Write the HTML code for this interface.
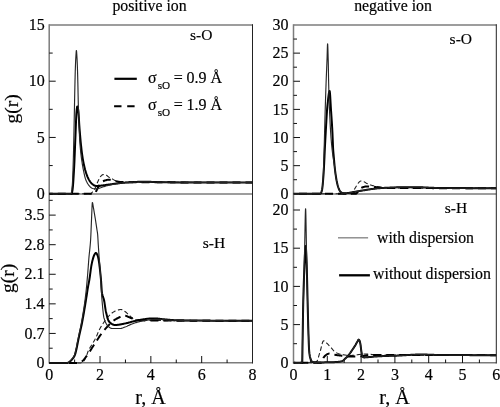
<!DOCTYPE html>
<html><head><meta charset="utf-8"><title>g(r)</title><style>html,body{margin:0;padding:0;background:#fff;}svg{display:block;}</style></head><body>
<svg width="500" height="407" viewBox="0 0 500 407" font-family="'Liberation Serif', 'Times New Roman', serif" fill="#000">
<defs><style>text{stroke:#000;stroke-width:0.18px;paint-order:stroke}</style>
<clipPath id="cTL"><rect x="49.2" y="24" width="203.3" height="172"/></clipPath>
<clipPath id="cBL"><rect x="49.2" y="194" width="203.3" height="170"/></clipPath>
<clipPath id="cTR"><rect x="293.5" y="24" width="202.8" height="172"/></clipPath>
<clipPath id="cBR"><rect x="293.5" y="194" width="202.8" height="170"/></clipPath>
</defs>
<rect width="500" height="407" fill="#fff"/>
<line x1="49.2" y1="24.9" x2="252.5" y2="24.9" stroke="#7c7c7c" stroke-width="1.5" fill="none"/>
<line x1="49.2" y1="194" x2="252.5" y2="194" stroke="#7c7c7c" stroke-width="1.5" fill="none"/>
<line x1="49.2" y1="362.8" x2="252.5" y2="362.8" stroke="#7c7c7c" stroke-width="1.5" fill="none"/>
<line x1="49.2" y1="24.2" x2="49.2" y2="363.5" stroke="#7c7c7c" stroke-width="1.5" fill="none"/>
<line x1="252.5" y1="24.2" x2="252.5" y2="363.5" stroke="#222" stroke-width="1"/>
<line x1="293.5" y1="24.9" x2="496.3" y2="24.9" stroke="#7c7c7c" stroke-width="1.5" fill="none"/>
<line x1="293.5" y1="194" x2="496.3" y2="194" stroke="#7c7c7c" stroke-width="1.5" fill="none"/>
<line x1="293.5" y1="362.8" x2="496.3" y2="362.8" stroke="#7c7c7c" stroke-width="1.5" fill="none"/>
<line x1="293.5" y1="24.2" x2="293.5" y2="363.5" stroke="#7c7c7c" stroke-width="1.5" fill="none"/>
<line x1="496.3" y1="24.2" x2="496.3" y2="363.5" stroke="#222" stroke-width="1"/>
<line x1="49.2" y1="193.70" x2="55.7" y2="193.70" stroke="#111" stroke-width="1"/>
<line x1="49.2" y1="137.45" x2="55.7" y2="137.45" stroke="#111" stroke-width="1"/>
<line x1="49.2" y1="81.20" x2="55.7" y2="81.20" stroke="#111" stroke-width="1"/>
<line x1="49.2" y1="165.57" x2="52.7" y2="165.57" stroke="#111" stroke-width="1"/>
<line x1="49.2" y1="109.32" x2="52.7" y2="109.32" stroke="#111" stroke-width="1"/>
<line x1="49.2" y1="53.07" x2="52.7" y2="53.07" stroke="#111" stroke-width="1"/>
<text x="44.8" y="198.80" text-anchor="end" font-size="16">0</text>
<text x="44.8" y="142.55" text-anchor="end" font-size="16">5</text>
<text x="44.8" y="86.30" text-anchor="end" font-size="16">10</text>
<text x="44.8" y="30.05" text-anchor="end" font-size="16">15</text>

<line x1="49.2" y1="333.43" x2="55.7" y2="333.43" stroke="#111" stroke-width="1"/>
<line x1="49.2" y1="303.85" x2="55.7" y2="303.85" stroke="#111" stroke-width="1"/>
<line x1="49.2" y1="274.27" x2="55.7" y2="274.27" stroke="#111" stroke-width="1"/>
<line x1="49.2" y1="244.70" x2="55.7" y2="244.70" stroke="#111" stroke-width="1"/>
<line x1="49.2" y1="215.12" x2="55.7" y2="215.12" stroke="#111" stroke-width="1"/>
<line x1="49.2" y1="348.21" x2="52.7" y2="348.21" stroke="#111" stroke-width="1"/>
<line x1="49.2" y1="318.64" x2="52.7" y2="318.64" stroke="#111" stroke-width="1"/>
<line x1="49.2" y1="289.06" x2="52.7" y2="289.06" stroke="#111" stroke-width="1"/>
<line x1="49.2" y1="259.49" x2="52.7" y2="259.49" stroke="#111" stroke-width="1"/>
<line x1="49.2" y1="229.91" x2="52.7" y2="229.91" stroke="#111" stroke-width="1"/>
<line x1="49.2" y1="200.34" x2="52.7" y2="200.34" stroke="#111" stroke-width="1"/>
<text x="44.6" y="368.10" text-anchor="end" font-size="16">0</text>
<text x="44.6" y="338.53" text-anchor="end" font-size="16">0.7</text>
<text x="44.6" y="308.95" text-anchor="end" font-size="16">1.4</text>
<text x="44.6" y="279.38" text-anchor="end" font-size="16">2.1</text>
<text x="44.6" y="249.80" text-anchor="end" font-size="16">2.8</text>
<text x="44.6" y="220.22" text-anchor="end" font-size="16">3.5</text>

<line x1="293.5" y1="165.67" x2="300.0" y2="165.67" stroke="#111" stroke-width="1"/>
<line x1="293.5" y1="137.53" x2="300.0" y2="137.53" stroke="#111" stroke-width="1"/>
<line x1="293.5" y1="109.40" x2="300.0" y2="109.40" stroke="#111" stroke-width="1"/>
<line x1="293.5" y1="81.26" x2="300.0" y2="81.26" stroke="#111" stroke-width="1"/>
<line x1="293.5" y1="53.13" x2="300.0" y2="53.13" stroke="#111" stroke-width="1"/>
<line x1="293.5" y1="179.73" x2="297.0" y2="179.73" stroke="#111" stroke-width="1"/>
<line x1="293.5" y1="151.60" x2="297.0" y2="151.60" stroke="#111" stroke-width="1"/>
<line x1="293.5" y1="123.46" x2="297.0" y2="123.46" stroke="#111" stroke-width="1"/>
<line x1="293.5" y1="95.33" x2="297.0" y2="95.33" stroke="#111" stroke-width="1"/>
<line x1="293.5" y1="67.19" x2="297.0" y2="67.19" stroke="#111" stroke-width="1"/>
<line x1="293.5" y1="39.06" x2="297.0" y2="39.06" stroke="#111" stroke-width="1"/>
<text x="288.6" y="198.90" text-anchor="end" font-size="16">0</text>
<text x="288.6" y="170.77" text-anchor="end" font-size="16">5</text>
<text x="288.6" y="142.63" text-anchor="end" font-size="16">10</text>
<text x="288.6" y="114.50" text-anchor="end" font-size="16">15</text>
<text x="288.6" y="86.36" text-anchor="end" font-size="16">20</text>
<text x="288.6" y="58.23" text-anchor="end" font-size="16">25</text>
<text x="288.6" y="30.09" text-anchor="end" font-size="16">30</text>

<line x1="293.5" y1="324.60" x2="300.0" y2="324.60" stroke="#111" stroke-width="1"/>
<line x1="293.5" y1="286.40" x2="300.0" y2="286.40" stroke="#111" stroke-width="1"/>
<line x1="293.5" y1="248.20" x2="300.0" y2="248.20" stroke="#111" stroke-width="1"/>
<line x1="293.5" y1="210.00" x2="300.0" y2="210.00" stroke="#111" stroke-width="1"/>
<line x1="293.5" y1="343.70" x2="297.0" y2="343.70" stroke="#111" stroke-width="1"/>
<line x1="293.5" y1="305.50" x2="297.0" y2="305.50" stroke="#111" stroke-width="1"/>
<line x1="293.5" y1="267.30" x2="297.0" y2="267.30" stroke="#111" stroke-width="1"/>
<line x1="293.5" y1="229.10" x2="297.0" y2="229.10" stroke="#111" stroke-width="1"/>
<text x="288.6" y="367.90" text-anchor="end" font-size="16">0</text>
<text x="288.6" y="329.70" text-anchor="end" font-size="16">5</text>
<text x="288.6" y="291.50" text-anchor="end" font-size="16">10</text>
<text x="288.6" y="253.30" text-anchor="end" font-size="16">15</text>
<text x="288.6" y="215.10" text-anchor="end" font-size="16">20</text>

<line x1="100.03" y1="363" x2="100.03" y2="356" stroke="#111" stroke-width="1"/>
<line x1="150.85" y1="363" x2="150.85" y2="356" stroke="#111" stroke-width="1"/>
<line x1="201.68" y1="363" x2="201.68" y2="356" stroke="#111" stroke-width="1"/>
<line x1="74.61" y1="363" x2="74.61" y2="359.5" stroke="#111" stroke-width="1"/>
<line x1="125.44" y1="363" x2="125.44" y2="359.5" stroke="#111" stroke-width="1"/>
<line x1="176.26" y1="363" x2="176.26" y2="359.5" stroke="#111" stroke-width="1"/>
<line x1="227.09" y1="363" x2="227.09" y2="359.5" stroke="#111" stroke-width="1"/>
<text x="49.20" y="379.6" text-anchor="middle" font-size="16">0</text>
<text x="100.03" y="379.6" text-anchor="middle" font-size="16">2</text>
<text x="150.85" y="379.6" text-anchor="middle" font-size="16">4</text>
<text x="201.68" y="379.6" text-anchor="middle" font-size="16">6</text>
<text x="252.50" y="379.6" text-anchor="middle" font-size="16">8</text>

<line x1="327.30" y1="363" x2="327.30" y2="356" stroke="#111" stroke-width="1"/>
<line x1="361.10" y1="363" x2="361.10" y2="356" stroke="#111" stroke-width="1"/>
<line x1="394.90" y1="363" x2="394.90" y2="356" stroke="#111" stroke-width="1"/>
<line x1="428.70" y1="363" x2="428.70" y2="356" stroke="#111" stroke-width="1"/>
<line x1="462.50" y1="363" x2="462.50" y2="356" stroke="#111" stroke-width="1"/>
<line x1="310.40" y1="363" x2="310.40" y2="359.5" stroke="#111" stroke-width="1"/>
<line x1="344.20" y1="363" x2="344.20" y2="359.5" stroke="#111" stroke-width="1"/>
<line x1="378.00" y1="363" x2="378.00" y2="359.5" stroke="#111" stroke-width="1"/>
<line x1="411.80" y1="363" x2="411.80" y2="359.5" stroke="#111" stroke-width="1"/>
<line x1="445.60" y1="363" x2="445.60" y2="359.5" stroke="#111" stroke-width="1"/>
<line x1="479.40" y1="363" x2="479.40" y2="359.5" stroke="#111" stroke-width="1"/>
<text x="293.50" y="379.6" text-anchor="middle" font-size="16">0</text>
<text x="327.30" y="379.6" text-anchor="middle" font-size="16">1</text>
<text x="361.10" y="379.6" text-anchor="middle" font-size="16">2</text>
<text x="394.90" y="379.6" text-anchor="middle" font-size="16">3</text>
<text x="428.70" y="379.6" text-anchor="middle" font-size="16">4</text>
<text x="462.50" y="379.6" text-anchor="middle" font-size="16">5</text>
<text x="496.30" y="379.6" text-anchor="middle" font-size="16">6</text>

<g clip-path="url(#cTL)">
<path fill="none" stroke="#222" stroke-width="1.1" stroke-dasharray="4.5 2.5" stroke-dashoffset="2.07" d="M49.20,193.70 L49.90,193.70 L50.60,193.70 L51.30,193.70 L52.00,193.70 L52.70,193.70 L53.40,193.70 L54.10,193.70 L54.80,193.70 L55.50,193.70 L56.20,193.70 L56.90,193.70 L57.60,193.70 L58.30,193.70 L59.00,193.70 L59.70,193.70 L60.40,193.70 L61.10,193.70 L61.80,193.70 L62.50,193.70 L63.20,193.70 L63.90,193.70 L64.60,193.70 L65.30,193.70 L66.00,193.70 L66.70,193.70 L67.40,193.70 L68.10,193.70 L68.80,193.70 L69.50,193.70 L70.20,193.70 L70.90,193.70 L71.60,193.70 L72.30,193.70 L73.00,193.70 L73.70,193.70 L74.40,193.70 L75.10,193.70 L75.80,193.70 L76.50,193.70 L77.20,193.70 L77.90,193.70 L78.60,193.70 L79.30,193.70 L80.00,193.70 L80.70,193.70 L81.40,193.70 L82.10,193.70 L82.80,193.70 L83.50,193.70 L84.20,193.70 L84.90,193.70 L85.60,193.70 L86.30,193.70 L87.00,193.70 L87.70,193.70 L88.40,193.70 L89.10,193.70 L89.80,193.70 L90.50,193.70 L91.17,193.41 L91.83,192.75 L92.50,192.00 L93.12,191.30 L93.75,190.49 L94.38,189.56 L95.00,188.50 L95.50,187.43 L96.00,186.13 L96.50,184.76 L97.00,183.50 L97.57,182.20 L98.13,180.96 L98.70,179.80 L99.30,178.61 L99.90,177.49 L100.50,176.60 L101.17,175.84 L101.83,175.21 L102.50,174.80 L103.00,174.61 L103.50,174.46 L104.00,174.40 L104.67,174.49 L105.33,174.72 L106.00,175.00 L106.60,175.34 L107.20,175.80 L107.80,176.31 L108.40,176.80 L109.00,177.20 L109.67,177.52 L110.33,177.80 L111.00,178.10 L111.70,178.49 L112.40,178.94 L113.10,179.40 L113.80,179.83 L114.50,180.20 L115.20,180.52 L115.90,180.83 L116.60,181.10 L117.30,181.33 L118.00,181.50 L118.67,181.62 L119.33,181.74 L120.00,181.84 L120.67,181.94 L121.33,182.03 L122.00,182.10 L122.67,182.15 L123.33,182.19 L124.00,182.20 L124.70,182.20 L125.40,182.21 L126.10,182.21 L126.79,182.21 L127.49,182.22 L128.19,182.22 L128.89,182.23 L129.59,182.23 L130.29,182.23 L130.98,182.24 L131.68,182.24 L132.38,182.24 L133.08,182.25 L133.78,182.25 L134.48,182.25 L135.17,182.26 L135.87,182.26 L136.57,182.26 L137.27,182.27 L137.97,182.27 L138.67,182.27 L139.36,182.27 L140.06,182.28 L140.76,182.28 L141.46,182.28 L142.16,182.29 L142.86,182.29 L143.55,182.29 L144.25,182.29 L144.95,182.30 L145.65,182.30 L146.35,182.30 L147.05,182.31 L147.74,182.31 L148.44,182.31 L149.14,182.31 L149.84,182.32 L150.54,182.32 L151.24,182.32 L151.93,182.32 L152.63,182.33 L153.33,182.33 L154.03,182.33 L154.73,182.33 L155.43,182.33 L156.12,182.34 L156.82,182.34 L157.52,182.34 L158.22,182.34 L158.92,182.35 L159.62,182.35 L160.32,182.35 L161.01,182.35 L161.71,182.35 L162.41,182.36 L163.11,182.36 L163.81,182.36 L164.51,182.36 L165.20,182.36 L165.90,182.37 L166.60,182.37 L167.30,182.37 L168.00,182.37 L168.70,182.37 L169.39,182.37 L170.09,182.38 L170.79,182.38 L171.49,182.38 L172.19,182.38 L172.89,182.38 L173.58,182.38 L174.28,182.39 L174.98,182.39 L175.68,182.39 L176.38,182.39 L177.08,182.39 L177.77,182.39 L178.47,182.39 L179.17,182.40 L179.87,182.40 L180.57,182.40 L181.27,182.40 L181.96,182.40 L182.66,182.40 L183.36,182.40 L184.06,182.41 L184.76,182.41 L185.46,182.41 L186.15,182.41 L186.85,182.41 L187.55,182.41 L188.25,182.41 L188.95,182.41 L189.65,182.41 L190.35,182.42 L191.04,182.42 L191.74,182.42 L192.44,182.42 L193.14,182.42 L193.84,182.42 L194.54,182.42 L195.23,182.42 L195.93,182.42 L196.63,182.42 L197.33,182.42 L198.03,182.43 L198.73,182.43 L199.42,182.43 L200.12,182.43 L200.82,182.43 L201.52,182.43 L202.22,182.43 L202.92,182.43 L203.61,182.43 L204.31,182.43 L205.01,182.43 L205.71,182.43 L206.41,182.43 L207.11,182.43 L207.80,182.44 L208.50,182.44 L209.20,182.44 L209.90,182.44 L210.60,182.44 L211.30,182.44 L211.99,182.44 L212.69,182.44 L213.39,182.44 L214.09,182.44 L214.79,182.44 L215.49,182.44 L216.18,182.44 L216.88,182.44 L217.58,182.44 L218.28,182.44 L218.98,182.44 L219.68,182.44 L220.38,182.44 L221.07,182.44 L221.77,182.44 L222.47,182.44 L223.17,182.44 L223.87,182.45 L224.57,182.45 L225.26,182.45 L225.96,182.45 L226.66,182.45 L227.36,182.45 L228.06,182.45 L228.76,182.45 L229.45,182.45 L230.15,182.45 L230.85,182.45 L231.55,182.45 L232.25,182.45 L232.95,182.45 L233.64,182.45 L234.34,182.45 L235.04,182.45 L235.74,182.45 L236.44,182.45 L237.14,182.45 L237.83,182.45 L238.53,182.45 L239.23,182.45 L239.93,182.45 L240.63,182.45 L241.33,182.45 L242.02,182.45 L242.72,182.45 L243.42,182.45 L244.12,182.45 L244.82,182.45 L245.52,182.45 L246.21,182.45 L246.91,182.45 L247.61,182.45 L248.31,182.45 L249.01,182.45 L249.71,182.45 L250.40,182.45 L251.10,182.45 L251.80,182.45 L252.50,182.45"/>
<path fill="none" stroke="#000" stroke-width="2.0" stroke-dasharray="8 5" stroke-dashoffset="4.43" d="M49.20,193.70 L49.90,193.70 L50.59,193.70 L51.29,193.70 L51.99,193.70 L52.68,193.70 L53.38,193.70 L54.08,193.70 L54.78,193.70 L55.47,193.70 L56.17,193.70 L56.87,193.70 L57.56,193.70 L58.26,193.70 L58.96,193.70 L59.65,193.70 L60.35,193.70 L61.05,193.70 L61.74,193.70 L62.44,193.70 L63.14,193.70 L63.84,193.70 L64.53,193.70 L65.23,193.70 L65.93,193.70 L66.62,193.70 L67.32,193.70 L68.02,193.70 L68.71,193.70 L69.41,193.70 L70.11,193.70 L70.80,193.70 L71.50,193.70 L72.20,193.70 L72.90,193.70 L73.59,193.70 L74.29,193.70 L74.99,193.70 L75.68,193.70 L76.38,193.70 L77.08,193.70 L77.77,193.70 L78.47,193.70 L79.17,193.70 L79.86,193.70 L80.56,193.70 L81.26,193.70 L81.96,193.70 L82.65,193.70 L83.35,193.70 L84.05,193.70 L84.74,193.70 L85.44,193.70 L86.14,193.70 L86.83,193.70 L87.53,193.70 L88.23,193.70 L88.92,193.70 L89.62,193.70 L90.32,193.70 L91.02,193.70 L91.71,193.70 L92.41,193.70 L93.11,193.70 L93.80,193.70 L94.50,193.70 L95.00,193.32 L95.50,192.44 L96.00,191.50 L96.67,190.23 L97.33,188.82 L98.00,187.50 L98.62,186.38 L99.25,185.30 L99.88,184.31 L100.50,183.50 L101.12,182.82 L101.75,182.21 L102.38,181.69 L103.00,181.30 L103.60,181.01 L104.20,180.76 L104.80,180.55 L105.40,180.36 L106.00,180.20 L106.62,180.03 L107.25,179.87 L107.88,179.75 L108.50,179.70 L109.12,179.72 L109.75,179.76 L110.38,179.83 L111.00,179.90 L111.60,179.99 L112.20,180.13 L112.80,180.28 L113.40,180.44 L114.00,180.60 L114.60,180.76 L115.20,180.93 L115.80,181.10 L116.40,181.26 L117.00,181.40 L117.67,181.55 L118.33,181.71 L119.00,181.85 L119.67,181.98 L120.33,182.06 L121.00,182.10 L121.70,182.11 L122.40,182.11 L123.10,182.12 L123.80,182.12 L124.50,182.13 L125.20,182.13 L125.90,182.14 L126.60,182.14 L127.30,182.15 L127.99,182.15 L128.69,182.15 L129.39,182.16 L130.09,182.16 L130.79,182.17 L131.49,182.17 L132.19,182.18 L132.89,182.18 L133.59,182.19 L134.29,182.19 L134.99,182.20 L135.69,182.20 L136.39,182.20 L137.09,182.21 L137.79,182.21 L138.49,182.22 L139.19,182.22 L139.89,182.22 L140.59,182.23 L141.28,182.23 L141.98,182.24 L142.68,182.24 L143.38,182.24 L144.08,182.25 L144.78,182.25 L145.48,182.25 L146.18,182.26 L146.88,182.26 L147.58,182.26 L148.28,182.27 L148.98,182.27 L149.68,182.27 L150.38,182.28 L151.08,182.28 L151.78,182.28 L152.48,182.29 L153.18,182.29 L153.88,182.29 L154.57,182.30 L155.27,182.30 L155.97,182.30 L156.67,182.31 L157.37,182.31 L158.07,182.31 L158.77,182.31 L159.47,182.32 L160.17,182.32 L160.87,182.32 L161.57,182.33 L162.27,182.33 L162.97,182.33 L163.67,182.33 L164.37,182.34 L165.07,182.34 L165.77,182.34 L166.47,182.34 L167.16,182.35 L167.86,182.35 L168.56,182.35 L169.26,182.35 L169.96,182.35 L170.66,182.36 L171.36,182.36 L172.06,182.36 L172.76,182.36 L173.46,182.37 L174.16,182.37 L174.86,182.37 L175.56,182.37 L176.26,182.37 L176.96,182.38 L177.66,182.38 L178.36,182.38 L179.06,182.38 L179.76,182.38 L180.45,182.38 L181.15,182.39 L181.85,182.39 L182.55,182.39 L183.25,182.39 L183.95,182.39 L184.65,182.39 L185.35,182.40 L186.05,182.40 L186.75,182.40 L187.45,182.40 L188.15,182.40 L188.85,182.40 L189.55,182.40 L190.25,182.41 L190.95,182.41 L191.65,182.41 L192.35,182.41 L193.05,182.41 L193.74,182.41 L194.44,182.41 L195.14,182.41 L195.84,182.42 L196.54,182.42 L197.24,182.42 L197.94,182.42 L198.64,182.42 L199.34,182.42 L200.04,182.42 L200.74,182.42 L201.44,182.42 L202.14,182.43 L202.84,182.43 L203.54,182.43 L204.24,182.43 L204.94,182.43 L205.64,182.43 L206.34,182.43 L207.03,182.43 L207.73,182.43 L208.43,182.43 L209.13,182.43 L209.83,182.43 L210.53,182.43 L211.23,182.44 L211.93,182.44 L212.63,182.44 L213.33,182.44 L214.03,182.44 L214.73,182.44 L215.43,182.44 L216.13,182.44 L216.83,182.44 L217.53,182.44 L218.23,182.44 L218.93,182.44 L219.62,182.44 L220.32,182.44 L221.02,182.44 L221.72,182.44 L222.42,182.44 L223.12,182.44 L223.82,182.44 L224.52,182.44 L225.22,182.44 L225.92,182.45 L226.62,182.45 L227.32,182.45 L228.02,182.45 L228.72,182.45 L229.42,182.45 L230.12,182.45 L230.82,182.45 L231.52,182.45 L232.22,182.45 L232.91,182.45 L233.61,182.45 L234.31,182.45 L235.01,182.45 L235.71,182.45 L236.41,182.45 L237.11,182.45 L237.81,182.45 L238.51,182.45 L239.21,182.45 L239.91,182.45 L240.61,182.45 L241.31,182.45 L242.01,182.45 L242.71,182.45 L243.41,182.45 L244.11,182.45 L244.81,182.45 L245.51,182.45 L246.20,182.45 L246.90,182.45 L247.60,182.45 L248.30,182.45 L249.00,182.45 L249.70,182.45 L250.40,182.45 L251.10,182.45 L251.80,182.45 L252.50,182.45"/>
<path fill="none" stroke="#000" stroke-width="2.0" stroke-linejoin="round" d="M49.20,193.70 L49.90,193.70 L50.59,193.70 L51.29,193.70 L51.99,193.70 L52.68,193.70 L53.38,193.70 L54.08,193.70 L54.78,193.70 L55.47,193.70 L56.17,193.70 L56.87,193.70 L57.56,193.70 L58.26,193.70 L58.96,193.70 L59.65,193.70 L60.35,193.70 L61.05,193.70 L61.74,193.70 L62.44,193.70 L63.14,193.70 L63.83,193.70 L64.53,193.70 L65.23,193.70 L65.92,193.70 L66.62,193.70 L67.32,193.70 L68.02,193.70 L68.71,193.70 L69.41,193.70 L70.11,193.70 L70.80,193.70 L71.50,193.70 L71.83,193.15 L72.17,191.79 L72.50,190.00 L72.61,189.31 L72.71,188.46 L72.82,187.45 L72.93,186.30 L73.04,185.02 L73.14,183.63 L73.25,182.14 L73.36,180.56 L73.46,178.90 L73.57,177.19 L73.68,175.43 L73.79,173.63 L73.89,171.82 L74.00,170.00 L74.06,168.91 L74.12,167.75 L74.19,166.53 L74.25,165.27 L74.31,163.95 L74.38,162.58 L74.44,161.17 L74.50,159.73 L74.56,158.25 L74.62,156.74 L74.69,155.21 L74.75,153.66 L74.81,152.09 L74.88,150.51 L74.94,148.92 L75.00,147.33 L75.06,145.74 L75.12,144.16 L75.19,142.58 L75.25,141.02 L75.31,139.48 L75.38,137.96 L75.44,136.46 L75.50,135.00 L75.56,133.51 L75.62,131.94 L75.69,130.31 L75.75,128.64 L75.81,126.94 L75.88,125.24 L75.94,123.56 L76.00,121.90 L76.06,120.30 L76.12,118.76 L76.19,117.31 L76.25,115.97 L76.31,114.75 L76.38,113.66 L76.44,112.74 L76.50,112.00 L76.70,109.97 L76.90,108.21 L77.10,106.97 L77.30,106.50 L77.60,107.02 L77.90,108.31 L78.20,110.00 L78.31,110.79 L78.42,111.84 L78.53,113.12 L78.63,114.59 L78.74,116.21 L78.85,117.92 L78.96,119.70 L79.07,121.49 L79.17,123.26 L79.28,124.96 L79.39,126.56 L79.50,128.00 L79.62,129.56 L79.75,131.10 L79.88,132.63 L80.00,134.14 L80.12,135.63 L80.25,137.08 L80.38,138.51 L80.50,139.90 L80.62,141.24 L80.75,142.55 L80.88,143.80 L81.00,145.00 L81.19,146.73 L81.38,148.40 L81.56,150.01 L81.75,151.56 L81.94,153.03 L82.12,154.43 L82.31,155.76 L82.50,157.00 L82.75,158.54 L83.00,159.99 L83.25,161.34 L83.50,162.62 L83.75,163.84 L84.00,165.00 L84.38,166.66 L84.75,168.21 L85.12,169.66 L85.50,171.00 L86.00,172.64 L86.50,174.14 L87.00,175.50 L87.65,177.10 L88.30,178.50 L88.87,179.61 L89.43,180.62 L90.00,181.50 L90.67,182.39 L91.33,183.16 L92.00,183.80 L92.60,184.30 L93.20,184.78 L93.80,185.20 L94.40,185.52 L95.00,185.70 L95.60,185.80 L96.20,185.88 L96.80,185.94 L97.40,185.99 L98.00,186.00 L98.67,185.98 L99.33,185.91 L100.00,185.82 L100.67,185.71 L101.33,185.60 L102.00,185.50 L102.67,185.41 L103.33,185.32 L104.00,185.23 L104.67,185.14 L105.33,185.05 L106.00,184.96 L106.67,184.86 L107.33,184.77 L108.00,184.68 L108.67,184.58 L109.33,184.49 L110.00,184.40 L110.67,184.31 L111.33,184.22 L112.00,184.13 L112.67,184.04 L113.33,183.95 L114.00,183.86 L114.67,183.77 L115.33,183.68 L116.00,183.60 L116.67,183.52 L117.33,183.43 L118.00,183.35 L118.67,183.27 L119.33,183.19 L120.00,183.11 L120.67,183.03 L121.33,182.96 L122.00,182.90 L122.67,182.84 L123.33,182.78 L124.00,182.72 L124.67,182.67 L125.33,182.61 L126.00,182.56 L126.67,182.51 L127.33,182.47 L128.00,182.42 L128.67,182.38 L129.33,182.34 L130.00,182.30 L130.70,182.26 L131.40,182.22 L132.10,182.18 L132.80,182.14 L133.50,182.10 L134.20,182.06 L134.90,182.02 L135.60,181.98 L136.30,181.94 L137.00,181.90 L137.70,181.87 L138.40,181.84 L139.10,181.81 L139.80,181.78 L140.50,181.76 L141.20,181.74 L141.90,181.72 L142.60,181.71 L143.30,181.70 L144.00,181.70 L144.70,181.70 L145.39,181.71 L146.09,181.72 L146.78,181.73 L147.48,181.75 L148.17,181.77 L148.87,181.79 L149.57,181.82 L150.26,181.84 L150.96,181.87 L151.65,181.90 L152.35,181.93 L153.04,181.96 L153.74,181.99 L154.43,182.02 L155.13,182.05 L155.83,182.07 L156.52,182.10 L157.22,182.13 L157.91,182.15 L158.61,182.17 L159.30,182.19 L160.00,182.20 L160.69,182.21 L161.38,182.23 L162.07,182.24 L162.76,182.25 L163.45,182.26 L164.14,182.27 L164.83,182.29 L165.52,182.30 L166.21,182.31 L166.90,182.32 L167.59,182.33 L168.28,182.34 L168.97,182.36 L169.66,182.37 L170.34,182.38 L171.03,182.38 L171.72,182.39 L172.41,182.40 L173.10,182.41 L173.79,182.42 L174.48,182.42 L175.17,182.43 L175.86,182.43 L176.55,182.44 L177.24,182.44 L177.93,182.45 L178.62,182.45 L179.31,182.45 L180.00,182.45 L180.70,182.45 L181.39,182.45 L182.09,182.45 L182.79,182.45 L183.49,182.45 L184.18,182.45 L184.88,182.45 L185.58,182.45 L186.27,182.45 L186.97,182.45 L187.67,182.45 L188.37,182.45 L189.06,182.45 L189.76,182.45 L190.46,182.45 L191.15,182.45 L191.85,182.45 L192.55,182.45 L193.25,182.45 L193.94,182.45 L194.64,182.45 L195.34,182.45 L196.03,182.45 L196.73,182.45 L197.43,182.45 L198.12,182.45 L198.82,182.45 L199.52,182.45 L200.22,182.45 L200.91,182.45 L201.61,182.45 L202.31,182.45 L203.00,182.45 L203.70,182.45 L204.40,182.45 L205.10,182.45 L205.79,182.45 L206.49,182.45 L207.19,182.45 L207.88,182.45 L208.58,182.45 L209.28,182.45 L209.98,182.45 L210.67,182.45 L211.37,182.45 L212.07,182.45 L212.76,182.45 L213.46,182.45 L214.16,182.45 L214.86,182.45 L215.55,182.45 L216.25,182.45 L216.95,182.45 L217.64,182.45 L218.34,182.45 L219.04,182.45 L219.74,182.45 L220.43,182.45 L221.13,182.45 L221.83,182.45 L222.52,182.45 L223.22,182.45 L223.92,182.45 L224.62,182.45 L225.31,182.45 L226.01,182.45 L226.71,182.45 L227.40,182.45 L228.10,182.45 L228.80,182.45 L229.50,182.45 L230.19,182.45 L230.89,182.45 L231.59,182.45 L232.28,182.45 L232.98,182.45 L233.68,182.45 L234.38,182.45 L235.07,182.45 L235.77,182.45 L236.47,182.45 L237.16,182.45 L237.86,182.45 L238.56,182.45 L239.25,182.45 L239.95,182.45 L240.65,182.45 L241.35,182.45 L242.04,182.45 L242.74,182.45 L243.44,182.45 L244.13,182.45 L244.83,182.45 L245.53,182.45 L246.23,182.45 L246.92,182.45 L247.62,182.45 L248.32,182.45 L249.01,182.45 L249.71,182.45 L250.41,182.45 L251.11,182.45 L251.80,182.45 L252.50,182.45"/>
<path fill="none" stroke="#262626" stroke-width="1.15" stroke-linejoin="round" d="M49.20,193.70 L49.89,193.70 L50.58,193.70 L51.26,193.70 L51.95,193.70 L52.64,193.70 L53.33,193.70 L54.01,193.70 L54.70,193.70 L55.39,193.70 L56.08,193.70 L56.76,193.70 L57.45,193.70 L58.14,193.70 L58.83,193.70 L59.51,193.70 L60.20,193.70 L60.89,193.70 L61.58,193.70 L62.26,193.70 L62.95,193.70 L63.64,193.70 L64.33,193.70 L65.01,193.70 L65.70,193.70 L66.39,193.70 L67.08,193.70 L67.76,193.70 L68.45,193.70 L69.14,193.70 L69.83,193.70 L70.51,193.70 L71.20,193.70 L71.38,193.36 L71.57,192.43 L71.75,191.02 L71.93,189.23 L72.12,187.19 L72.30,185.00 L72.36,184.22 L72.42,183.33 L72.48,182.31 L72.54,181.19 L72.59,179.97 L72.65,178.66 L72.71,177.26 L72.77,175.77 L72.83,174.22 L72.89,172.60 L72.95,170.92 L73.01,169.19 L73.06,167.41 L73.12,165.60 L73.18,163.75 L73.24,161.89 L73.30,160.00 L73.33,158.90 L73.37,157.75 L73.40,156.55 L73.43,155.31 L73.47,154.02 L73.50,152.69 L73.53,151.33 L73.57,149.93 L73.60,148.49 L73.63,147.03 L73.67,145.53 L73.70,144.02 L73.73,142.48 L73.77,140.91 L73.80,139.34 L73.83,137.74 L73.87,136.14 L73.90,134.53 L73.93,132.90 L73.97,131.28 L74.00,129.65 L74.03,128.03 L74.07,126.40 L74.10,124.79 L74.13,123.18 L74.17,121.58 L74.20,120.00 L74.23,118.57 L74.26,117.10 L74.29,115.61 L74.32,114.10 L74.35,112.57 L74.38,111.03 L74.41,109.47 L74.44,107.91 L74.47,106.34 L74.50,104.78 L74.53,103.22 L74.56,101.67 L74.59,100.13 L74.62,98.60 L74.65,97.10 L74.68,95.61 L74.71,94.16 L74.74,92.74 L74.77,91.35 L74.80,90.00 L74.84,88.42 L74.87,86.83 L74.91,85.25 L74.94,83.68 L74.98,82.13 L75.01,80.60 L75.05,79.11 L75.09,77.65 L75.12,76.23 L75.16,74.86 L75.19,73.55 L75.23,72.29 L75.26,71.11 L75.30,70.00 L75.36,68.16 L75.42,66.40 L75.49,64.74 L75.55,63.16 L75.61,61.69 L75.67,60.34 L75.74,59.10 L75.80,58.00 L75.92,55.95 L76.04,53.93 L76.16,52.18 L76.28,50.96 L76.40,50.50 L76.52,50.96 L76.64,52.18 L76.76,53.93 L76.88,55.95 L77.00,58.00 L77.06,59.11 L77.12,60.35 L77.19,61.72 L77.25,63.19 L77.31,64.77 L77.38,66.44 L77.44,68.19 L77.50,70.00 L77.54,71.23 L77.58,72.53 L77.62,73.92 L77.66,75.37 L77.70,76.88 L77.74,78.44 L77.78,80.04 L77.82,81.67 L77.86,83.33 L77.90,85.00 L77.93,86.34 L77.96,87.78 L77.99,89.29 L78.02,90.85 L78.05,92.44 L78.08,94.05 L78.12,95.65 L78.15,97.23 L78.18,98.76 L78.21,100.22 L78.24,101.59 L78.27,102.86 L78.30,104.00 L78.35,105.82 L78.41,107.51 L78.46,109.08 L78.52,110.56 L78.57,111.97 L78.63,113.32 L78.68,114.63 L78.74,115.94 L78.79,117.26 L78.85,118.60 L78.90,120.00 L78.96,121.56 L79.02,123.17 L79.08,124.81 L79.13,126.47 L79.19,128.12 L79.25,129.75 L79.31,131.34 L79.37,132.87 L79.42,134.31 L79.48,135.66 L79.54,136.90 L79.60,138.00 L79.71,139.88 L79.82,141.63 L79.93,143.24 L80.04,144.75 L80.16,146.15 L80.27,147.46 L80.38,148.70 L80.49,149.88 L80.60,151.00 L80.77,152.68 L80.95,154.24 L81.12,155.71 L81.30,157.09 L81.47,158.39 L81.65,159.64 L81.83,160.84 L82.00,162.00 L82.24,163.56 L82.49,165.05 L82.73,166.47 L82.97,167.82 L83.21,169.11 L83.46,170.33 L83.70,171.50 L84.03,173.06 L84.37,174.57 L84.70,176.02 L85.03,177.34 L85.37,178.52 L85.70,179.50 L86.40,181.18 L87.10,182.59 L87.80,183.78 L88.50,184.80 L89.12,185.63 L89.75,186.37 L90.38,187.00 L91.00,187.50 L91.62,187.91 L92.25,188.27 L92.88,188.55 L93.50,188.70 L94.10,188.77 L94.70,188.82 L95.30,188.86 L95.90,188.89 L96.50,188.90 L97.20,188.84 L97.90,188.68 L98.60,188.47 L99.30,188.23 L100.00,188.00 L100.67,187.79 L101.33,187.55 L102.00,187.30 L102.67,187.06 L103.33,186.82 L104.00,186.60 L104.67,186.40 L105.33,186.20 L106.00,186.01 L106.67,185.82 L107.33,185.64 L108.00,185.47 L108.67,185.31 L109.33,185.15 L110.00,185.00 L110.67,184.86 L111.33,184.72 L112.00,184.60 L112.67,184.47 L113.33,184.35 L114.00,184.24 L114.67,184.12 L115.33,184.01 L116.00,183.90 L116.67,183.79 L117.33,183.68 L118.00,183.57 L118.67,183.46 L119.33,183.35 L120.00,183.25 L120.67,183.16 L121.33,183.07 L122.00,183.00 L122.67,182.93 L123.33,182.87 L124.00,182.81 L124.67,182.76 L125.33,182.70 L126.00,182.65 L126.67,182.61 L127.33,182.56 L128.00,182.52 L128.67,182.48 L129.33,182.44 L130.00,182.40 L130.70,182.36 L131.40,182.32 L132.10,182.28 L132.80,182.24 L133.50,182.20 L134.20,182.16 L134.90,182.12 L135.60,182.08 L136.30,182.04 L137.00,182.00 L137.70,181.97 L138.40,181.94 L139.10,181.91 L139.80,181.88 L140.50,181.86 L141.20,181.84 L141.90,181.82 L142.60,181.81 L143.30,181.80 L144.00,181.80 L144.68,181.80 L145.35,181.80 L146.03,181.81 L146.71,181.82 L147.39,181.83 L148.06,181.84 L148.74,181.85 L149.42,181.86 L150.10,181.87 L150.77,181.89 L151.45,181.91 L152.13,181.92 L152.81,181.94 L153.48,181.96 L154.16,181.98 L154.84,181.99 L155.52,182.01 L156.19,182.03 L156.87,182.05 L157.55,182.07 L158.23,182.08 L158.90,182.10 L159.58,182.12 L160.26,182.13 L160.94,182.15 L161.61,182.16 L162.29,182.17 L162.97,182.18 L163.65,182.19 L164.32,182.20 L165.00,182.20 L165.69,182.20 L166.39,182.21 L167.08,182.21 L167.78,182.22 L168.47,182.22 L169.17,182.22 L169.86,182.23 L170.56,182.23 L171.25,182.24 L171.94,182.24 L172.64,182.24 L173.33,182.25 L174.03,182.25 L174.72,182.25 L175.42,182.26 L176.11,182.26 L176.81,182.26 L177.50,182.27 L178.19,182.27 L178.89,182.27 L179.58,182.28 L180.28,182.28 L180.97,182.28 L181.67,182.29 L182.36,182.29 L183.06,182.29 L183.75,182.30 L184.44,182.30 L185.14,182.30 L185.83,182.31 L186.53,182.31 L187.22,182.31 L187.92,182.32 L188.61,182.32 L189.31,182.32 L190.00,182.32 L190.69,182.33 L191.39,182.33 L192.08,182.33 L192.78,182.34 L193.47,182.34 L194.17,182.34 L194.86,182.34 L195.56,182.35 L196.25,182.35 L196.94,182.35 L197.64,182.35 L198.33,182.36 L199.03,182.36 L199.72,182.36 L200.42,182.36 L201.11,182.37 L201.81,182.37 L202.50,182.37 L203.19,182.37 L203.89,182.37 L204.58,182.38 L205.28,182.38 L205.97,182.38 L206.67,182.38 L207.36,182.39 L208.06,182.39 L208.75,182.39 L209.44,182.39 L210.14,182.39 L210.83,182.39 L211.53,182.40 L212.22,182.40 L212.92,182.40 L213.61,182.40 L214.31,182.40 L215.00,182.41 L215.69,182.41 L216.39,182.41 L217.08,182.41 L217.78,182.41 L218.47,182.41 L219.17,182.41 L219.86,182.42 L220.56,182.42 L221.25,182.42 L221.94,182.42 L222.64,182.42 L223.33,182.42 L224.03,182.42 L224.72,182.43 L225.42,182.43 L226.11,182.43 L226.81,182.43 L227.50,182.43 L228.19,182.43 L228.89,182.43 L229.58,182.43 L230.28,182.43 L230.97,182.44 L231.67,182.44 L232.36,182.44 L233.06,182.44 L233.75,182.44 L234.44,182.44 L235.14,182.44 L235.83,182.44 L236.53,182.44 L237.22,182.44 L237.92,182.44 L238.61,182.44 L239.31,182.44 L240.00,182.45 L240.69,182.45 L241.39,182.45 L242.08,182.45 L242.78,182.45 L243.47,182.45 L244.17,182.45 L244.86,182.45 L245.56,182.45 L246.25,182.45 L246.94,182.45 L247.64,182.45 L248.33,182.45 L249.03,182.45 L249.72,182.45 L250.42,182.45 L251.11,182.45 L251.81,182.45 L252.50,182.45"/>
</g>

<g clip-path="url(#cTR)">
<path fill="none" stroke="#222" stroke-width="1.1" stroke-dasharray="4.5 2.5" stroke-dashoffset="6.85" d="M293.50,193.80 L294.20,193.80 L294.90,193.80 L295.60,193.80 L296.30,193.80 L296.99,193.80 L297.69,193.80 L298.39,193.80 L299.09,193.80 L299.79,193.80 L300.49,193.80 L301.19,193.80 L301.89,193.80 L302.58,193.80 L303.28,193.80 L303.98,193.80 L304.68,193.80 L305.38,193.80 L306.08,193.80 L306.78,193.80 L307.48,193.80 L308.17,193.80 L308.87,193.80 L309.57,193.80 L310.27,193.80 L310.97,193.80 L311.67,193.80 L312.37,193.80 L313.07,193.80 L313.77,193.80 L314.46,193.80 L315.16,193.80 L315.86,193.80 L316.56,193.80 L317.26,193.80 L317.96,193.80 L318.66,193.80 L319.36,193.80 L320.05,193.80 L320.75,193.80 L321.45,193.80 L322.15,193.80 L322.85,193.80 L323.55,193.80 L324.25,193.80 L324.95,193.80 L325.64,193.80 L326.34,193.80 L327.04,193.80 L327.74,193.80 L328.44,193.80 L329.14,193.80 L329.84,193.80 L330.54,193.80 L331.23,193.80 L331.93,193.80 L332.63,193.80 L333.33,193.80 L334.03,193.80 L334.73,193.80 L335.43,193.80 L336.13,193.80 L336.83,193.80 L337.52,193.80 L338.22,193.80 L338.92,193.80 L339.62,193.80 L340.32,193.80 L341.02,193.80 L341.72,193.80 L342.42,193.80 L343.11,193.80 L343.81,193.80 L344.51,193.80 L345.21,193.80 L345.91,193.80 L346.61,193.80 L347.31,193.80 L348.01,193.80 L348.70,193.80 L349.40,193.80 L350.10,193.80 L350.80,193.80 L351.50,193.80 L352.00,193.45 L352.50,192.65 L353.00,191.80 L353.53,190.92 L354.07,189.95 L354.60,189.00 L355.20,187.98 L355.80,186.98 L356.40,186.00 L356.92,185.13 L357.45,184.25 L357.98,183.45 L358.50,182.80 L359.07,182.18 L359.65,181.60 L360.23,181.17 L360.80,181.00 L361.40,181.03 L362.00,181.12 L362.60,181.25 L363.20,181.40 L363.84,181.64 L364.48,181.99 L365.12,182.40 L365.76,182.82 L366.40,183.20 L367.00,183.52 L367.60,183.84 L368.20,184.14 L368.80,184.40 L369.47,184.64 L370.13,184.86 L370.80,185.06 L371.47,185.25 L372.13,185.43 L372.80,185.60 L373.45,185.77 L374.10,185.94 L374.75,186.11 L375.40,186.27 L376.05,186.42 L376.70,186.56 L377.35,186.69 L378.00,186.80 L378.70,186.91 L379.40,187.01 L380.10,187.11 L380.80,187.21 L381.50,187.30 L382.20,187.38 L382.90,187.45 L383.60,187.51 L384.30,187.56 L385.00,187.60 L385.68,187.63 L386.36,187.66 L387.05,187.69 L387.73,187.72 L388.41,187.75 L389.09,187.77 L389.77,187.80 L390.45,187.82 L391.14,187.84 L391.82,187.86 L392.50,187.88 L393.18,187.90 L393.86,187.91 L394.55,187.93 L395.23,187.94 L395.91,187.96 L396.59,187.97 L397.27,187.98 L397.95,187.98 L398.64,187.99 L399.32,188.00 L400.00,188.00 L400.70,188.00 L401.40,188.01 L402.09,188.01 L402.79,188.01 L403.49,188.01 L404.19,188.02 L404.88,188.02 L405.58,188.02 L406.28,188.03 L406.98,188.03 L407.68,188.03 L408.37,188.03 L409.07,188.04 L409.77,188.04 L410.47,188.04 L411.17,188.04 L411.86,188.05 L412.56,188.05 L413.26,188.05 L413.96,188.05 L414.65,188.06 L415.35,188.06 L416.05,188.06 L416.75,188.06 L417.45,188.06 L418.14,188.07 L418.84,188.07 L419.54,188.07 L420.24,188.07 L420.93,188.08 L421.63,188.08 L422.33,188.08 L423.03,188.08 L423.73,188.08 L424.42,188.09 L425.12,188.09 L425.82,188.09 L426.52,188.09 L427.22,188.09 L427.91,188.10 L428.61,188.10 L429.31,188.10 L430.01,188.10 L430.70,188.10 L431.40,188.10 L432.10,188.11 L432.80,188.11 L433.50,188.11 L434.19,188.11 L434.89,188.11 L435.59,188.11 L436.29,188.12 L436.98,188.12 L437.68,188.12 L438.38,188.12 L439.08,188.12 L439.78,188.12 L440.47,188.12 L441.17,188.13 L441.87,188.13 L442.57,188.13 L443.27,188.13 L443.96,188.13 L444.66,188.13 L445.36,188.13 L446.06,188.13 L446.75,188.14 L447.45,188.14 L448.15,188.14 L448.85,188.14 L449.55,188.14 L450.24,188.14 L450.94,188.14 L451.64,188.14 L452.34,188.14 L453.03,188.15 L453.73,188.15 L454.43,188.15 L455.13,188.15 L455.83,188.15 L456.52,188.15 L457.22,188.15 L457.92,188.15 L458.62,188.15 L459.32,188.15 L460.01,188.15 L460.71,188.16 L461.41,188.16 L462.11,188.16 L462.80,188.16 L463.50,188.16 L464.20,188.16 L464.90,188.16 L465.60,188.16 L466.29,188.16 L466.99,188.16 L467.69,188.16 L468.39,188.16 L469.08,188.16 L469.78,188.16 L470.48,188.16 L471.18,188.16 L471.88,188.17 L472.57,188.17 L473.27,188.17 L473.97,188.17 L474.67,188.17 L475.37,188.17 L476.06,188.17 L476.76,188.17 L477.46,188.17 L478.16,188.17 L478.85,188.17 L479.55,188.17 L480.25,188.17 L480.95,188.17 L481.65,188.17 L482.34,188.17 L483.04,188.17 L483.74,188.17 L484.44,188.17 L485.13,188.17 L485.83,188.17 L486.53,188.17 L487.23,188.17 L487.93,188.17 L488.62,188.17 L489.32,188.17 L490.02,188.17 L490.72,188.17 L491.42,188.17 L492.11,188.17 L492.81,188.17 L493.51,188.17 L494.21,188.17 L494.90,188.17 L495.60,188.17 L496.30,188.17"/>
<path fill="none" stroke="#000" stroke-width="2.0" stroke-dasharray="8 5" stroke-dashoffset="7.51" d="M293.50,193.80 L294.19,193.80 L294.89,193.80 L295.58,193.80 L296.28,193.80 L296.97,193.80 L297.67,193.80 L298.36,193.80 L299.06,193.80 L299.75,193.80 L300.44,193.80 L301.14,193.80 L301.83,193.80 L302.53,193.80 L303.22,193.80 L303.92,193.80 L304.61,193.80 L305.31,193.80 L306.00,193.80 L306.69,193.80 L307.39,193.80 L308.08,193.80 L308.78,193.80 L309.47,193.80 L310.17,193.80 L310.86,193.80 L311.56,193.80 L312.25,193.80 L312.94,193.80 L313.64,193.80 L314.33,193.80 L315.03,193.80 L315.72,193.80 L316.42,193.80 L317.11,193.80 L317.81,193.80 L318.50,193.80 L319.19,193.80 L319.89,193.80 L320.58,193.80 L321.28,193.80 L321.97,193.80 L322.67,193.80 L323.36,193.80 L324.06,193.80 L324.75,193.80 L325.44,193.80 L326.14,193.80 L326.83,193.80 L327.53,193.80 L328.22,193.80 L328.92,193.80 L329.61,193.80 L330.31,193.80 L331.00,193.80 L331.69,193.80 L332.39,193.80 L333.08,193.80 L333.78,193.80 L334.47,193.80 L335.17,193.80 L335.86,193.80 L336.56,193.80 L337.25,193.80 L337.94,193.80 L338.64,193.80 L339.33,193.80 L340.03,193.80 L340.72,193.80 L341.42,193.80 L342.11,193.80 L342.81,193.80 L343.50,193.80 L344.19,193.80 L344.89,193.80 L345.58,193.80 L346.28,193.80 L346.97,193.80 L347.67,193.80 L348.36,193.80 L349.06,193.80 L349.75,193.80 L350.44,193.80 L351.14,193.80 L351.83,193.80 L352.53,193.80 L353.22,193.80 L353.92,193.80 L354.61,193.80 L355.31,193.80 L356.00,193.80 L356.67,193.37 L357.33,192.43 L358.00,191.50 L358.64,190.73 L359.28,189.93 L359.92,189.15 L360.56,188.48 L361.20,188.00 L361.76,187.70 L362.32,187.45 L362.88,187.24 L363.44,187.06 L364.00,186.90 L364.62,186.73 L365.25,186.57 L365.88,186.45 L366.50,186.40 L367.07,186.40 L367.65,186.40 L368.23,186.40 L368.80,186.40 L369.44,186.42 L370.08,186.48 L370.72,186.55 L371.36,186.63 L372.00,186.70 L372.60,186.76 L373.20,186.82 L373.80,186.88 L374.40,186.94 L375.00,187.00 L375.62,187.07 L376.25,187.15 L376.88,187.24 L377.50,187.33 L378.12,187.41 L378.75,187.49 L379.38,187.55 L380.00,187.60 L380.67,187.64 L381.33,187.68 L382.00,187.72 L382.67,187.76 L383.33,187.79 L384.00,187.83 L384.67,187.86 L385.33,187.89 L386.00,187.91 L386.67,187.94 L387.33,187.96 L388.00,187.97 L388.67,187.99 L389.33,188.00 L390.00,188.00 L390.70,188.00 L391.40,188.01 L392.10,188.01 L392.80,188.01 L393.50,188.01 L394.20,188.02 L394.90,188.02 L395.59,188.02 L396.29,188.03 L396.99,188.03 L397.69,188.03 L398.39,188.03 L399.09,188.04 L399.79,188.04 L400.49,188.04 L401.19,188.04 L401.89,188.05 L402.59,188.05 L403.29,188.05 L403.99,188.05 L404.69,188.05 L405.39,188.06 L406.08,188.06 L406.78,188.06 L407.48,188.06 L408.18,188.07 L408.88,188.07 L409.58,188.07 L410.28,188.07 L410.98,188.07 L411.68,188.08 L412.38,188.08 L413.08,188.08 L413.78,188.08 L414.48,188.08 L415.18,188.09 L415.88,188.09 L416.57,188.09 L417.27,188.09 L417.97,188.09 L418.67,188.10 L419.37,188.10 L420.07,188.10 L420.77,188.10 L421.47,188.10 L422.17,188.10 L422.87,188.11 L423.57,188.11 L424.27,188.11 L424.97,188.11 L425.67,188.11 L426.37,188.11 L427.07,188.11 L427.76,188.12 L428.46,188.12 L429.16,188.12 L429.86,188.12 L430.56,188.12 L431.26,188.12 L431.96,188.12 L432.66,188.13 L433.36,188.13 L434.06,188.13 L434.76,188.13 L435.46,188.13 L436.16,188.13 L436.86,188.13 L437.56,188.13 L438.25,188.13 L438.95,188.14 L439.65,188.14 L440.35,188.14 L441.05,188.14 L441.75,188.14 L442.45,188.14 L443.15,188.14 L443.85,188.14 L444.55,188.14 L445.25,188.15 L445.95,188.15 L446.65,188.15 L447.35,188.15 L448.05,188.15 L448.74,188.15 L449.44,188.15 L450.14,188.15 L450.84,188.15 L451.54,188.15 L452.24,188.15 L452.94,188.15 L453.64,188.15 L454.34,188.16 L455.04,188.16 L455.74,188.16 L456.44,188.16 L457.14,188.16 L457.84,188.16 L458.54,188.16 L459.23,188.16 L459.93,188.16 L460.63,188.16 L461.33,188.16 L462.03,188.16 L462.73,188.16 L463.43,188.16 L464.13,188.16 L464.83,188.16 L465.53,188.16 L466.23,188.16 L466.93,188.17 L467.63,188.17 L468.33,188.17 L469.03,188.17 L469.73,188.17 L470.42,188.17 L471.12,188.17 L471.82,188.17 L472.52,188.17 L473.22,188.17 L473.92,188.17 L474.62,188.17 L475.32,188.17 L476.02,188.17 L476.72,188.17 L477.42,188.17 L478.12,188.17 L478.82,188.17 L479.52,188.17 L480.22,188.17 L480.91,188.17 L481.61,188.17 L482.31,188.17 L483.01,188.17 L483.71,188.17 L484.41,188.17 L485.11,188.17 L485.81,188.17 L486.51,188.17 L487.21,188.17 L487.91,188.17 L488.61,188.17 L489.31,188.17 L490.01,188.17 L490.71,188.17 L491.40,188.17 L492.10,188.17 L492.80,188.17 L493.50,188.17 L494.20,188.17 L494.90,188.17 L495.60,188.17 L496.30,188.17"/>
<path fill="none" stroke="#000" stroke-width="2.0" stroke-linejoin="round" d="M293.50,193.80 L294.19,193.80 L294.88,193.80 L295.58,193.80 L296.27,193.80 L296.96,193.80 L297.65,193.80 L298.35,193.80 L299.04,193.80 L299.73,193.80 L300.42,193.80 L301.12,193.80 L301.81,193.80 L302.50,193.80 L303.19,193.80 L303.88,193.80 L304.58,193.80 L305.27,193.80 L305.96,193.80 L306.65,193.80 L307.35,193.80 L308.04,193.80 L308.73,193.80 L309.42,193.80 L310.12,193.80 L310.81,193.80 L311.50,193.80 L312.19,193.80 L312.88,193.80 L313.58,193.80 L314.27,193.80 L314.96,193.80 L315.65,193.80 L316.35,193.80 L317.04,193.80 L317.73,193.80 L318.42,193.80 L319.12,193.80 L319.81,193.80 L320.50,193.80 L321.00,193.26 L321.50,191.88 L322.00,190.00 L322.15,189.27 L322.30,188.29 L322.45,187.10 L322.60,185.73 L322.75,184.19 L322.90,182.52 L323.05,180.74 L323.20,178.88 L323.35,176.95 L323.50,175.00 L323.57,173.97 L323.65,172.86 L323.73,171.67 L323.80,170.41 L323.88,169.09 L323.95,167.70 L324.02,166.26 L324.10,164.78 L324.18,163.25 L324.25,161.70 L324.32,160.11 L324.40,158.51 L324.48,156.89 L324.55,155.26 L324.62,153.63 L324.70,152.01 L324.78,150.40 L324.85,148.81 L324.93,147.24 L325.00,145.71 L325.07,144.21 L325.15,142.75 L325.23,141.35 L325.30,140.00 L325.39,138.38 L325.48,136.74 L325.57,135.08 L325.67,133.41 L325.76,131.74 L325.85,130.06 L325.94,128.39 L326.03,126.73 L326.12,125.08 L326.22,123.44 L326.31,121.83 L326.40,120.25 L326.49,118.69 L326.58,117.17 L326.68,115.70 L326.77,114.27 L326.86,112.88 L326.95,111.56 L327.04,110.29 L327.13,109.08 L327.23,107.95 L327.32,106.89 L327.41,105.90 L327.50,105.00 L327.71,103.01 L327.92,101.03 L328.13,99.08 L328.34,97.24 L328.55,95.54 L328.76,94.04 L328.97,92.78 L329.18,91.83 L329.39,91.21 L329.60,91.00 L329.71,91.21 L329.82,91.81 L329.92,92.74 L330.03,93.97 L330.14,95.43 L330.25,97.09 L330.35,98.89 L330.46,100.79 L330.57,102.73 L330.68,104.67 L330.78,106.56 L330.89,108.36 L331.00,110.00 L331.09,111.33 L331.19,112.66 L331.28,113.98 L331.37,115.31 L331.46,116.64 L331.56,117.99 L331.65,119.36 L331.74,120.75 L331.84,122.18 L331.93,123.65 L332.02,125.15 L332.11,126.71 L332.21,128.33 L332.30,130.00 L332.36,131.25 L332.43,132.61 L332.49,134.06 L332.56,135.59 L332.62,137.17 L332.69,138.77 L332.75,140.38 L332.81,141.98 L332.88,143.53 L332.94,145.03 L333.01,146.45 L333.07,147.77 L333.14,148.96 L333.20,150.00 L333.32,151.66 L333.44,153.11 L333.56,154.42 L333.68,155.69 L333.80,157.00 L333.93,158.44 L334.05,159.89 L334.18,161.35 L334.30,162.80 L334.43,164.20 L334.55,165.55 L334.68,166.82 L334.80,168.00 L335.00,169.74 L335.20,171.36 L335.40,172.89 L335.60,174.33 L335.80,175.70 L336.00,177.00 L336.27,178.63 L336.53,180.14 L336.80,181.50 L337.10,182.92 L337.40,184.25 L337.70,185.45 L338.00,186.50 L338.50,188.01 L339.00,189.30 L339.50,190.30 L340.10,191.25 L340.70,192.02 L341.30,192.50 L341.98,192.81 L342.65,193.07 L343.32,193.24 L344.00,193.30 L344.67,193.29 L345.33,193.25 L346.00,193.20 L346.67,193.14 L347.33,193.07 L348.00,193.00 L348.70,192.92 L349.40,192.82 L350.10,192.71 L350.80,192.59 L351.50,192.46 L352.20,192.33 L352.90,192.19 L353.60,192.06 L354.30,191.92 L355.00,191.80 L355.70,191.68 L356.40,191.56 L357.10,191.44 L357.80,191.32 L358.50,191.20 L359.20,191.08 L359.90,190.96 L360.60,190.84 L361.30,190.72 L362.00,190.60 L362.67,190.49 L363.33,190.38 L364.00,190.26 L364.67,190.15 L365.33,190.04 L366.00,189.92 L366.67,189.81 L367.33,189.71 L368.00,189.60 L368.67,189.50 L369.33,189.40 L370.00,189.30 L370.67,189.21 L371.33,189.11 L372.00,189.02 L372.67,188.92 L373.33,188.83 L374.00,188.74 L374.67,188.65 L375.33,188.57 L376.00,188.50 L376.67,188.42 L377.33,188.36 L378.00,188.30 L378.67,188.25 L379.33,188.20 L380.00,188.15 L380.67,188.10 L381.33,188.05 L382.00,188.01 L382.67,187.97 L383.33,187.93 L384.00,187.89 L384.67,187.86 L385.33,187.82 L386.00,187.79 L386.67,187.76 L387.33,187.73 L388.00,187.70 L388.67,187.67 L389.33,187.64 L390.00,187.61 L390.67,187.59 L391.33,187.56 L392.00,187.53 L392.67,187.50 L393.33,187.48 L394.00,187.45 L394.67,187.43 L395.33,187.41 L396.00,187.39 L396.67,187.37 L397.33,187.35 L398.00,187.33 L398.67,187.32 L399.33,187.31 L400.00,187.30 L400.68,187.29 L401.36,187.28 L402.05,187.28 L402.73,187.27 L403.41,187.26 L404.09,187.26 L404.77,187.25 L405.45,187.24 L406.14,187.24 L406.82,187.23 L407.50,187.23 L408.18,187.22 L408.86,187.22 L409.55,187.22 L410.23,187.21 L410.91,187.21 L411.59,187.21 L412.27,187.20 L412.95,187.20 L413.64,187.20 L414.32,187.20 L415.00,187.20 L415.69,187.20 L416.39,187.21 L417.08,187.21 L417.78,187.23 L418.47,187.24 L419.17,187.26 L419.86,187.27 L420.56,187.29 L421.25,187.32 L421.94,187.34 L422.64,187.37 L423.33,187.40 L424.03,187.42 L424.72,187.45 L425.42,187.49 L426.11,187.52 L426.81,187.55 L427.50,187.58 L428.19,187.61 L428.89,187.64 L429.58,187.68 L430.28,187.71 L430.97,187.74 L431.67,187.77 L432.36,187.80 L433.06,187.83 L433.75,187.85 L434.44,187.88 L435.14,187.90 L435.83,187.92 L436.53,187.94 L437.22,187.96 L437.92,187.97 L438.61,187.99 L439.31,187.99 L440.00,188.00 L440.70,188.00 L441.39,188.01 L442.09,188.01 L442.78,188.02 L443.48,188.02 L444.17,188.03 L444.87,188.03 L445.56,188.03 L446.26,188.04 L446.95,188.04 L447.65,188.04 L448.34,188.05 L449.04,188.05 L449.73,188.06 L450.43,188.06 L451.12,188.06 L451.82,188.07 L452.51,188.07 L453.21,188.07 L453.90,188.08 L454.60,188.08 L455.29,188.08 L455.99,188.09 L456.68,188.09 L457.38,188.09 L458.07,188.09 L458.77,188.10 L459.46,188.10 L460.16,188.10 L460.85,188.11 L461.55,188.11 L462.24,188.11 L462.94,188.11 L463.63,188.12 L464.33,188.12 L465.02,188.12 L465.72,188.12 L466.41,188.13 L467.11,188.13 L467.80,188.13 L468.50,188.13 L469.19,188.13 L469.89,188.14 L470.58,188.14 L471.28,188.14 L471.97,188.14 L472.67,188.14 L473.36,188.14 L474.06,188.15 L474.75,188.15 L475.45,188.15 L476.14,188.15 L476.84,188.15 L477.53,188.15 L478.23,188.16 L478.92,188.16 L479.62,188.16 L480.31,188.16 L481.01,188.16 L481.70,188.16 L482.40,188.16 L483.09,188.16 L483.79,188.16 L484.48,188.17 L485.18,188.17 L485.87,188.17 L486.57,188.17 L487.26,188.17 L487.96,188.17 L488.65,188.17 L489.35,188.17 L490.04,188.17 L490.74,188.17 L491.43,188.17 L492.13,188.17 L492.82,188.17 L493.52,188.17 L494.21,188.17 L494.91,188.17 L495.60,188.17 L496.30,188.17"/>
<path fill="none" stroke="#262626" stroke-width="1.15" stroke-linejoin="round" d="M293.50,193.80 L294.20,193.80 L294.89,193.80 L295.59,193.80 L296.29,193.80 L296.99,193.80 L297.68,193.80 L298.38,193.80 L299.08,193.80 L299.78,193.80 L300.47,193.80 L301.17,193.80 L301.87,193.80 L302.57,193.80 L303.26,193.80 L303.96,193.80 L304.66,193.80 L305.36,193.80 L306.05,193.80 L306.75,193.80 L307.45,193.80 L308.14,193.80 L308.84,193.80 L309.54,193.80 L310.24,193.80 L310.93,193.80 L311.63,193.80 L312.33,193.80 L313.03,193.80 L313.72,193.80 L314.42,193.80 L315.12,193.80 L315.82,193.80 L316.51,193.80 L317.21,193.80 L317.91,193.80 L318.61,193.80 L319.30,193.80 L320.00,193.80 L320.50,193.48 L321.00,192.64 L321.50,191.50 L321.76,190.71 L322.02,189.59 L322.28,188.12 L322.54,186.27 L322.80,184.00 L322.86,183.31 L322.93,182.44 L322.99,181.41 L323.05,180.24 L323.11,178.93 L323.18,177.50 L323.24,175.97 L323.30,174.36 L323.36,172.66 L323.43,170.91 L323.49,169.12 L323.55,167.30 L323.61,165.46 L323.68,163.62 L323.74,161.79 L323.80,160.00 L323.84,158.81 L323.88,157.58 L323.92,156.31 L323.96,155.00 L324.01,153.66 L324.05,152.29 L324.09,150.88 L324.13,149.45 L324.17,148.00 L324.21,146.52 L324.25,145.02 L324.29,143.50 L324.34,141.96 L324.38,140.42 L324.42,138.86 L324.46,137.29 L324.50,135.71 L324.54,134.13 L324.58,132.54 L324.62,130.96 L324.66,129.38 L324.71,127.80 L324.75,126.23 L324.79,124.66 L324.83,123.11 L324.87,121.57 L324.91,120.05 L324.95,118.54 L324.99,117.05 L325.04,115.59 L325.08,114.15 L325.12,112.74 L325.16,111.35 L325.20,110.00 L325.25,108.38 L325.30,106.78 L325.35,105.18 L325.40,103.60 L325.45,102.02 L325.50,100.46 L325.55,98.91 L325.60,97.38 L325.65,95.85 L325.70,94.34 L325.75,92.84 L325.80,91.36 L325.85,89.89 L325.90,88.43 L325.95,86.99 L326.00,85.56 L326.05,84.15 L326.10,82.75 L326.15,81.37 L326.20,80.00 L326.26,78.47 L326.31,76.97 L326.37,75.51 L326.43,74.08 L326.49,72.67 L326.54,71.27 L326.60,69.88 L326.66,68.50 L326.71,67.12 L326.77,65.73 L326.83,64.33 L326.89,62.91 L326.94,61.47 L327.00,60.00 L327.05,58.45 L327.11,56.69 L327.16,54.79 L327.22,52.83 L327.27,50.89 L327.33,49.04 L327.38,47.36 L327.44,45.91 L327.49,44.79 L327.55,44.06 L327.60,43.80 L327.65,44.02 L327.71,44.64 L327.76,45.61 L327.82,46.88 L327.87,48.41 L327.93,50.13 L327.98,52.01 L328.04,53.98 L328.09,56.00 L328.15,58.03 L328.20,60.00 L328.23,61.11 L328.26,62.34 L328.29,63.68 L328.32,65.11 L328.35,66.61 L328.38,68.18 L328.41,69.79 L328.44,71.44 L328.46,73.09 L328.49,74.75 L328.52,76.39 L328.55,78.00 L328.58,79.55 L328.61,81.05 L328.64,82.47 L328.67,83.79 L328.70,85.00 L328.75,86.82 L328.79,88.60 L328.84,90.33 L328.89,92.02 L328.94,93.67 L328.98,95.27 L329.03,96.83 L329.08,98.34 L329.12,99.81 L329.17,101.24 L329.22,102.62 L329.26,103.96 L329.31,105.26 L329.36,106.51 L329.41,107.72 L329.45,108.88 L329.50,110.00 L329.58,111.96 L329.67,113.87 L329.75,115.73 L329.84,117.54 L329.93,119.31 L330.01,121.02 L330.09,122.69 L330.18,124.31 L330.26,125.88 L330.35,127.40 L330.44,128.88 L330.52,130.30 L330.61,131.68 L330.69,133.01 L330.77,134.30 L330.86,135.53 L330.94,136.72 L331.03,137.86 L331.12,138.95 L331.20,140.00 L331.37,141.95 L331.53,143.78 L331.70,145.52 L331.87,147.16 L332.03,148.72 L332.20,150.20 L332.37,151.62 L332.53,152.98 L332.70,154.29 L332.87,155.55 L333.03,156.79 L333.20,158.00 L333.42,159.47 L333.63,160.80 L333.85,162.05 L334.07,163.28 L334.28,164.58 L334.50,166.00 L334.69,167.40 L334.88,168.96 L335.06,170.61 L335.25,172.28 L335.44,173.93 L335.62,175.47 L335.81,176.85 L336.00,178.00 L336.33,179.70 L336.67,181.20 L337.00,182.54 L337.33,183.76 L337.67,184.90 L338.00,186.00 L338.50,187.67 L339.00,189.27 L339.50,190.62 L340.00,191.50 L340.62,192.19 L341.25,192.76 L341.88,193.16 L342.50,193.30 L343.19,193.29 L343.88,193.27 L344.56,193.24 L345.25,193.21 L345.94,193.16 L346.62,193.11 L347.31,193.06 L348.00,193.00 L348.70,192.93 L349.40,192.84 L350.10,192.73 L350.80,192.61 L351.50,192.48 L352.20,192.34 L352.90,192.20 L353.60,192.06 L354.30,191.93 L355.00,191.80 L355.70,191.68 L356.40,191.56 L357.10,191.44 L357.80,191.32 L358.50,191.20 L359.20,191.08 L359.90,190.96 L360.60,190.84 L361.30,190.72 L362.00,190.60 L362.67,190.49 L363.33,190.38 L364.00,190.26 L364.67,190.15 L365.33,190.04 L366.00,189.92 L366.67,189.81 L367.33,189.71 L368.00,189.60 L368.67,189.50 L369.33,189.40 L370.00,189.30 L370.67,189.21 L371.33,189.11 L372.00,189.02 L372.67,188.92 L373.33,188.83 L374.00,188.74 L374.67,188.65 L375.33,188.57 L376.00,188.50 L376.67,188.42 L377.33,188.36 L378.00,188.30 L378.67,188.25 L379.33,188.20 L380.00,188.15 L380.67,188.10 L381.33,188.05 L382.00,188.01 L382.67,187.97 L383.33,187.93 L384.00,187.89 L384.67,187.86 L385.33,187.82 L386.00,187.79 L386.67,187.76 L387.33,187.73 L388.00,187.70 L388.67,187.67 L389.33,187.64 L390.00,187.61 L390.67,187.59 L391.33,187.56 L392.00,187.53 L392.67,187.50 L393.33,187.48 L394.00,187.45 L394.67,187.43 L395.33,187.41 L396.00,187.39 L396.67,187.37 L397.33,187.35 L398.00,187.33 L398.67,187.32 L399.33,187.31 L400.00,187.30 L400.68,187.29 L401.36,187.28 L402.05,187.28 L402.73,187.27 L403.41,187.26 L404.09,187.26 L404.77,187.25 L405.45,187.24 L406.14,187.24 L406.82,187.23 L407.50,187.23 L408.18,187.22 L408.86,187.22 L409.55,187.22 L410.23,187.21 L410.91,187.21 L411.59,187.21 L412.27,187.20 L412.95,187.20 L413.64,187.20 L414.32,187.20 L415.00,187.20 L415.69,187.20 L416.39,187.21 L417.08,187.21 L417.78,187.23 L418.47,187.24 L419.17,187.26 L419.86,187.27 L420.56,187.29 L421.25,187.32 L421.94,187.34 L422.64,187.37 L423.33,187.40 L424.03,187.42 L424.72,187.45 L425.42,187.49 L426.11,187.52 L426.81,187.55 L427.50,187.58 L428.19,187.61 L428.89,187.64 L429.58,187.68 L430.28,187.71 L430.97,187.74 L431.67,187.77 L432.36,187.80 L433.06,187.83 L433.75,187.85 L434.44,187.88 L435.14,187.90 L435.83,187.92 L436.53,187.94 L437.22,187.96 L437.92,187.97 L438.61,187.99 L439.31,187.99 L440.00,188.00 L440.70,188.00 L441.39,188.01 L442.09,188.01 L442.78,188.02 L443.48,188.02 L444.17,188.03 L444.87,188.03 L445.56,188.03 L446.26,188.04 L446.95,188.04 L447.65,188.04 L448.34,188.05 L449.04,188.05 L449.73,188.06 L450.43,188.06 L451.12,188.06 L451.82,188.07 L452.51,188.07 L453.21,188.07 L453.90,188.08 L454.60,188.08 L455.29,188.08 L455.99,188.09 L456.68,188.09 L457.38,188.09 L458.07,188.09 L458.77,188.10 L459.46,188.10 L460.16,188.10 L460.85,188.11 L461.55,188.11 L462.24,188.11 L462.94,188.11 L463.63,188.12 L464.33,188.12 L465.02,188.12 L465.72,188.12 L466.41,188.13 L467.11,188.13 L467.80,188.13 L468.50,188.13 L469.19,188.13 L469.89,188.14 L470.58,188.14 L471.28,188.14 L471.97,188.14 L472.67,188.14 L473.36,188.14 L474.06,188.15 L474.75,188.15 L475.45,188.15 L476.14,188.15 L476.84,188.15 L477.53,188.15 L478.23,188.16 L478.92,188.16 L479.62,188.16 L480.31,188.16 L481.01,188.16 L481.70,188.16 L482.40,188.16 L483.09,188.16 L483.79,188.16 L484.48,188.17 L485.18,188.17 L485.87,188.17 L486.57,188.17 L487.26,188.17 L487.96,188.17 L488.65,188.17 L489.35,188.17 L490.04,188.17 L490.74,188.17 L491.43,188.17 L492.13,188.17 L492.82,188.17 L493.52,188.17 L494.21,188.17 L494.91,188.17 L495.60,188.17 L496.30,188.17"/>
</g>

<g clip-path="url(#cBL)">
<path fill="none" stroke="#222" stroke-width="1.1" stroke-dasharray="4.5 2.5" stroke-dashoffset="0.00" d="M49.20,363.00 L49.90,363.00 L50.60,363.00 L51.30,363.00 L52.00,363.00 L52.70,363.00 L53.40,363.00 L54.10,363.00 L54.80,363.00 L55.50,363.00 L56.20,363.00 L56.90,363.00 L57.60,363.00 L58.30,363.00 L59.00,363.00 L59.70,363.00 L60.40,363.00 L61.10,363.00 L61.80,363.00 L62.50,363.00 L63.20,363.00 L63.90,363.00 L64.60,363.00 L65.30,363.00 L66.00,363.00 L66.70,363.00 L67.40,363.00 L68.10,363.00 L68.80,363.00 L69.50,363.00 L70.20,363.00 L70.90,363.00 L71.60,363.00 L72.30,363.00 L73.00,363.00 L73.70,363.00 L74.40,363.00 L75.10,363.00 L75.80,363.00 L76.50,363.00 L77.20,363.00 L77.90,363.00 L78.60,363.00 L79.30,363.00 L80.00,363.00 L80.60,362.94 L81.20,362.76 L81.80,362.50 L82.40,362.17 L83.00,361.80 L83.60,361.25 L84.20,360.42 L84.80,359.38 L85.40,358.21 L86.00,357.00 L86.48,355.88 L86.96,354.54 L87.44,353.12 L87.92,351.76 L88.40,350.60 L89.10,349.22 L89.80,347.98 L90.50,346.85 L91.20,345.76 L91.90,344.66 L92.60,343.50 L93.28,342.34 L93.96,341.20 L94.64,340.04 L95.32,338.81 L96.00,337.50 L96.64,336.09 L97.28,334.53 L97.92,332.92 L98.56,331.37 L99.20,330.00 L99.87,328.73 L100.54,327.53 L101.21,326.40 L101.89,325.32 L102.56,324.28 L103.23,323.28 L103.90,322.30 L104.58,321.33 L105.27,320.39 L105.95,319.49 L106.63,318.62 L107.32,317.79 L108.00,317.00 L108.67,316.25 L109.33,315.50 L110.00,314.78 L110.67,314.11 L111.33,313.51 L112.00,313.00 L112.67,312.55 L113.33,312.13 L114.00,311.72 L114.67,311.34 L115.33,311.00 L116.00,310.69 L116.67,310.41 L117.33,310.18 L118.00,310.00 L118.60,309.86 L119.20,309.72 L119.80,309.61 L120.40,309.53 L121.00,309.50 L121.67,309.59 L122.33,309.83 L123.00,310.18 L123.67,310.60 L124.33,311.06 L125.00,311.50 L125.62,311.94 L126.25,312.46 L126.88,313.03 L127.50,313.64 L128.12,314.26 L128.75,314.87 L129.38,315.46 L130.00,316.00 L130.67,316.57 L131.33,317.15 L132.00,317.72 L132.67,318.24 L133.33,318.68 L134.00,319.00 L134.67,319.24 L135.33,319.46 L136.00,319.65 L136.67,319.80 L137.33,319.92 L138.00,320.00 L138.67,320.05 L139.33,320.10 L140.00,320.15 L140.67,320.19 L141.33,320.23 L142.00,320.27 L142.67,320.30 L143.33,320.33 L144.00,320.36 L144.67,320.39 L145.33,320.41 L146.00,320.43 L146.67,320.45 L147.33,320.46 L148.00,320.48 L148.67,320.49 L149.33,320.49 L150.00,320.50 L150.70,320.50 L151.39,320.51 L152.09,320.51 L152.79,320.52 L153.49,320.52 L154.18,320.52 L154.88,320.53 L155.58,320.53 L156.28,320.54 L156.97,320.54 L157.67,320.54 L158.37,320.55 L159.06,320.55 L159.76,320.55 L160.46,320.56 L161.16,320.56 L161.85,320.57 L162.55,320.57 L163.25,320.57 L163.95,320.58 L164.64,320.58 L165.34,320.58 L166.04,320.59 L166.73,320.59 L167.43,320.59 L168.13,320.59 L168.83,320.60 L169.52,320.60 L170.22,320.60 L170.92,320.61 L171.62,320.61 L172.31,320.61 L173.01,320.62 L173.71,320.62 L174.40,320.62 L175.10,320.62 L175.80,320.63 L176.50,320.63 L177.19,320.63 L177.89,320.63 L178.59,320.64 L179.29,320.64 L179.98,320.64 L180.68,320.64 L181.38,320.65 L182.07,320.65 L182.77,320.65 L183.47,320.65 L184.17,320.66 L184.86,320.66 L185.56,320.66 L186.26,320.66 L186.96,320.67 L187.65,320.67 L188.35,320.67 L189.05,320.67 L189.74,320.67 L190.44,320.68 L191.14,320.68 L191.84,320.68 L192.53,320.68 L193.23,320.68 L193.93,320.68 L194.63,320.69 L195.32,320.69 L196.02,320.69 L196.72,320.69 L197.41,320.69 L198.11,320.70 L198.81,320.70 L199.51,320.70 L200.20,320.70 L200.90,320.70 L201.60,320.70 L202.30,320.70 L202.99,320.71 L203.69,320.71 L204.39,320.71 L205.09,320.71 L205.78,320.71 L206.48,320.71 L207.18,320.71 L207.87,320.72 L208.57,320.72 L209.27,320.72 L209.97,320.72 L210.66,320.72 L211.36,320.72 L212.06,320.72 L212.76,320.72 L213.45,320.72 L214.15,320.73 L214.85,320.73 L215.54,320.73 L216.24,320.73 L216.94,320.73 L217.64,320.73 L218.33,320.73 L219.03,320.73 L219.73,320.73 L220.43,320.73 L221.12,320.73 L221.82,320.73 L222.52,320.74 L223.21,320.74 L223.91,320.74 L224.61,320.74 L225.31,320.74 L226.00,320.74 L226.70,320.74 L227.40,320.74 L228.10,320.74 L228.79,320.74 L229.49,320.74 L230.19,320.74 L230.88,320.74 L231.58,320.74 L232.28,320.74 L232.98,320.74 L233.67,320.74 L234.37,320.75 L235.07,320.75 L235.77,320.75 L236.46,320.75 L237.16,320.75 L237.86,320.75 L238.55,320.75 L239.25,320.75 L239.95,320.75 L240.65,320.75 L241.34,320.75 L242.04,320.75 L242.74,320.75 L243.44,320.75 L244.13,320.75 L244.83,320.75 L245.53,320.75 L246.22,320.75 L246.92,320.75 L247.62,320.75 L248.32,320.75 L249.01,320.75 L249.71,320.75 L250.41,320.75 L251.11,320.75 L251.80,320.75 L252.50,320.75"/>
<path fill="none" stroke="#000" stroke-width="2.0" stroke-dasharray="8 5" stroke-dashoffset="6.20" d="M49.20,363.00 L49.90,363.00 L50.59,363.00 L51.29,363.00 L51.98,363.00 L52.68,363.00 L53.37,363.00 L54.07,363.00 L54.76,363.00 L55.46,363.00 L56.15,363.00 L56.84,363.00 L57.54,363.00 L58.23,363.00 L58.93,363.00 L59.62,363.00 L60.32,363.00 L61.02,363.00 L61.71,363.00 L62.41,363.00 L63.10,363.00 L63.80,363.00 L64.49,363.00 L65.19,363.00 L65.88,363.00 L66.58,363.00 L67.27,363.00 L67.97,363.00 L68.66,363.00 L69.36,363.00 L70.05,363.00 L70.75,363.00 L71.44,363.00 L72.14,363.00 L72.83,363.00 L73.53,363.00 L74.22,363.00 L74.92,363.00 L75.61,363.00 L76.31,363.00 L77.00,363.00 L77.60,362.96 L78.20,362.85 L78.80,362.69 L79.40,362.50 L80.00,362.30 L80.60,362.06 L81.20,361.75 L81.80,361.39 L82.40,360.97 L83.00,360.50 L83.62,359.89 L84.25,359.14 L84.88,358.32 L85.50,357.50 L86.10,356.74 L86.70,355.96 L87.30,355.17 L87.90,354.35 L88.50,353.50 L89.18,352.48 L89.87,351.41 L90.55,350.31 L91.23,349.20 L91.92,348.09 L92.60,347.00 L93.25,345.99 L93.90,344.98 L94.55,343.98 L95.20,342.98 L95.85,341.99 L96.50,341.00 L97.17,339.98 L97.83,338.95 L98.50,337.93 L99.17,336.92 L99.83,335.94 L100.50,335.00 L101.20,334.05 L101.90,333.12 L102.60,332.23 L103.30,331.35 L104.00,330.50 L104.67,329.71 L105.33,328.94 L106.00,328.18 L106.67,327.44 L107.33,326.71 L108.00,326.00 L108.62,325.33 L109.25,324.65 L109.88,323.97 L110.50,323.30 L111.12,322.66 L111.75,322.05 L112.38,321.50 L113.00,321.00 L113.67,320.52 L114.33,320.07 L115.00,319.64 L115.67,319.24 L116.33,318.86 L117.00,318.50 L117.67,318.15 L118.33,317.82 L119.00,317.50 L119.62,317.19 L120.25,316.86 L120.88,316.52 L121.50,316.21 L122.12,315.93 L122.75,315.70 L123.38,315.55 L124.00,315.50 L124.70,315.55 L125.40,315.69 L126.10,315.90 L126.80,316.17 L127.50,316.47 L128.20,316.80 L128.90,317.13 L129.60,317.46 L130.30,317.75 L131.00,318.00 L131.70,318.23 L132.40,318.48 L133.10,318.72 L133.80,318.97 L134.50,319.21 L135.20,319.43 L135.90,319.63 L136.60,319.79 L137.30,319.92 L138.00,320.00 L138.67,320.05 L139.33,320.10 L140.00,320.14 L140.67,320.19 L141.33,320.23 L142.00,320.26 L142.67,320.30 L143.33,320.33 L144.00,320.36 L144.67,320.38 L145.33,320.41 L146.00,320.43 L146.67,320.45 L147.33,320.46 L148.00,320.48 L148.67,320.49 L149.33,320.49 L150.00,320.50 L150.70,320.50 L151.39,320.51 L152.09,320.51 L152.79,320.52 L153.49,320.52 L154.18,320.52 L154.88,320.53 L155.58,320.53 L156.28,320.54 L156.97,320.54 L157.67,320.54 L158.37,320.55 L159.06,320.55 L159.76,320.55 L160.46,320.56 L161.16,320.56 L161.85,320.57 L162.55,320.57 L163.25,320.57 L163.95,320.58 L164.64,320.58 L165.34,320.58 L166.04,320.59 L166.73,320.59 L167.43,320.59 L168.13,320.59 L168.83,320.60 L169.52,320.60 L170.22,320.60 L170.92,320.61 L171.62,320.61 L172.31,320.61 L173.01,320.62 L173.71,320.62 L174.40,320.62 L175.10,320.62 L175.80,320.63 L176.50,320.63 L177.19,320.63 L177.89,320.63 L178.59,320.64 L179.29,320.64 L179.98,320.64 L180.68,320.64 L181.38,320.65 L182.07,320.65 L182.77,320.65 L183.47,320.65 L184.17,320.66 L184.86,320.66 L185.56,320.66 L186.26,320.66 L186.96,320.67 L187.65,320.67 L188.35,320.67 L189.05,320.67 L189.74,320.67 L190.44,320.68 L191.14,320.68 L191.84,320.68 L192.53,320.68 L193.23,320.68 L193.93,320.68 L194.63,320.69 L195.32,320.69 L196.02,320.69 L196.72,320.69 L197.41,320.69 L198.11,320.70 L198.81,320.70 L199.51,320.70 L200.20,320.70 L200.90,320.70 L201.60,320.70 L202.30,320.70 L202.99,320.71 L203.69,320.71 L204.39,320.71 L205.09,320.71 L205.78,320.71 L206.48,320.71 L207.18,320.71 L207.87,320.72 L208.57,320.72 L209.27,320.72 L209.97,320.72 L210.66,320.72 L211.36,320.72 L212.06,320.72 L212.76,320.72 L213.45,320.72 L214.15,320.73 L214.85,320.73 L215.54,320.73 L216.24,320.73 L216.94,320.73 L217.64,320.73 L218.33,320.73 L219.03,320.73 L219.73,320.73 L220.43,320.73 L221.12,320.73 L221.82,320.73 L222.52,320.74 L223.21,320.74 L223.91,320.74 L224.61,320.74 L225.31,320.74 L226.00,320.74 L226.70,320.74 L227.40,320.74 L228.10,320.74 L228.79,320.74 L229.49,320.74 L230.19,320.74 L230.88,320.74 L231.58,320.74 L232.28,320.74 L232.98,320.74 L233.67,320.74 L234.37,320.75 L235.07,320.75 L235.77,320.75 L236.46,320.75 L237.16,320.75 L237.86,320.75 L238.55,320.75 L239.25,320.75 L239.95,320.75 L240.65,320.75 L241.34,320.75 L242.04,320.75 L242.74,320.75 L243.44,320.75 L244.13,320.75 L244.83,320.75 L245.53,320.75 L246.22,320.75 L246.92,320.75 L247.62,320.75 L248.32,320.75 L249.01,320.75 L249.71,320.75 L250.41,320.75 L251.11,320.75 L251.80,320.75 L252.50,320.75"/>
<path fill="none" stroke="#000" stroke-width="2.0" stroke-linejoin="round" d="M49.20,363.00 L49.89,363.00 L50.58,363.00 L51.28,363.00 L51.97,363.00 L52.66,363.00 L53.35,363.00 L54.04,363.00 L54.74,363.00 L55.43,363.00 L56.12,363.00 L56.81,363.00 L57.50,363.00 L58.20,363.00 L58.89,363.00 L59.58,363.00 L60.27,363.00 L60.96,363.00 L61.66,363.00 L62.35,363.00 L63.04,363.00 L63.73,363.00 L64.42,363.00 L65.12,363.00 L65.81,363.00 L66.50,363.00 L67.12,362.93 L67.75,362.75 L68.38,362.49 L69.00,362.20 L69.60,361.85 L70.20,361.37 L70.80,360.80 L71.40,360.17 L72.00,359.50 L72.67,358.72 L73.35,357.85 L74.03,356.80 L74.70,355.50 L75.06,354.57 L75.42,353.38 L75.78,352.00 L76.14,350.52 L76.50,349.00 L76.77,347.81 L77.03,346.50 L77.30,345.13 L77.57,343.73 L77.83,342.33 L78.10,341.00 L78.38,339.63 L78.67,338.28 L78.95,336.94 L79.23,335.61 L79.52,334.30 L79.80,333.00 L80.14,331.49 L80.48,330.03 L80.82,328.57 L81.16,327.08 L81.50,325.50 L81.76,324.24 L82.01,322.94 L82.27,321.60 L82.53,320.23 L82.79,318.84 L83.04,317.43 L83.30,316.00 L83.54,314.63 L83.79,313.24 L84.03,311.82 L84.27,310.38 L84.51,308.93 L84.76,307.47 L85.00,306.00 L85.23,304.61 L85.46,303.19 L85.69,301.77 L85.91,300.34 L86.14,298.90 L86.37,297.45 L86.60,296.00 L86.83,294.50 L87.07,292.96 L87.30,291.41 L87.53,289.89 L87.77,288.41 L88.00,287.00 L88.28,285.44 L88.56,283.99 L88.84,282.56 L89.12,281.09 L89.40,279.50 L89.61,278.18 L89.82,276.74 L90.03,275.22 L90.24,273.65 L90.45,272.06 L90.66,270.49 L90.87,268.97 L91.08,267.52 L91.29,266.19 L91.50,265.00 L91.78,263.57 L92.06,262.25 L92.34,261.02 L92.62,259.91 L92.90,258.90 L93.43,257.15 L93.97,255.64 L94.50,254.50 L95.15,253.43 L95.80,252.90 L96.27,253.14 L96.73,253.73 L97.20,254.50 L97.63,255.55 L98.07,257.10 L98.50,259.00 L98.70,260.04 L98.90,261.28 L99.10,262.68 L99.30,264.19 L99.50,265.78 L99.70,267.40 L99.84,268.60 L99.99,269.85 L100.13,271.15 L100.28,272.50 L100.42,273.90 L100.57,275.35 L100.71,276.85 L100.86,278.40 L101.00,280.00 L101.11,281.38 L101.22,282.96 L101.33,284.66 L101.44,286.41 L101.56,288.14 L101.67,289.75 L101.78,291.19 L101.89,292.36 L102.00,293.20 L102.40,295.11 L102.80,296.43 L103.20,297.47 L103.60,298.55 L104.00,300.00 L104.25,301.23 L104.50,302.70 L104.75,304.32 L105.00,306.03 L105.25,307.73 L105.50,309.34 L105.75,310.79 L106.00,312.00 L106.43,313.80 L106.86,315.55 L107.29,317.18 L107.71,318.65 L108.14,319.89 L108.57,320.86 L109.00,321.50 L109.67,322.18 L110.33,322.80 L111.00,323.36 L111.67,323.84 L112.33,324.24 L113.00,324.57 L113.67,324.80 L114.33,324.95 L115.00,325.00 L115.67,324.99 L116.33,324.96 L117.00,324.90 L117.67,324.83 L118.33,324.75 L119.00,324.65 L119.67,324.54 L120.33,324.42 L121.00,324.30 L121.67,324.17 L122.33,324.03 L123.00,323.90 L123.67,323.76 L124.33,323.63 L125.00,323.50 L125.67,323.37 L126.33,323.22 L127.00,323.07 L127.67,322.91 L128.33,322.74 L129.00,322.56 L129.67,322.38 L130.33,322.20 L131.00,322.02 L131.67,321.84 L132.33,321.66 L133.00,321.48 L133.67,321.31 L134.33,321.15 L135.00,321.00 L135.70,320.85 L136.40,320.69 L137.10,320.54 L137.80,320.40 L138.50,320.25 L139.20,320.11 L139.90,319.98 L140.60,319.85 L141.30,319.72 L142.00,319.60 L142.70,319.48 L143.40,319.36 L144.10,319.24 L144.80,319.12 L145.50,319.00 L146.20,318.89 L146.90,318.80 L147.60,318.71 L148.30,318.65 L149.00,318.60 L149.67,318.57 L150.33,318.53 L151.00,318.50 L151.67,318.47 L152.33,318.45 L153.00,318.43 L153.67,318.41 L154.33,318.40 L155.00,318.40 L155.67,318.41 L156.33,318.44 L157.00,318.49 L157.67,318.56 L158.33,318.63 L159.00,318.71 L159.67,318.80 L160.33,318.89 L161.00,318.98 L161.67,319.06 L162.33,319.14 L163.00,319.20 L163.68,319.26 L164.36,319.32 L165.05,319.38 L165.73,319.45 L166.41,319.51 L167.09,319.58 L167.77,319.64 L168.45,319.70 L169.14,319.77 L169.82,319.83 L170.50,319.89 L171.18,319.94 L171.86,320.00 L172.55,320.05 L173.23,320.10 L173.91,320.14 L174.59,320.18 L175.27,320.21 L175.95,320.24 L176.64,320.27 L177.32,320.29 L178.00,320.30 L178.70,320.31 L179.39,320.32 L180.09,320.33 L180.79,320.34 L181.48,320.35 L182.18,320.36 L182.87,320.36 L183.57,320.37 L184.27,320.38 L184.96,320.39 L185.66,320.40 L186.36,320.41 L187.05,320.41 L187.75,320.42 L188.44,320.43 L189.14,320.44 L189.84,320.45 L190.53,320.45 L191.23,320.46 L191.93,320.47 L192.62,320.48 L193.32,320.48 L194.01,320.49 L194.71,320.50 L195.41,320.50 L196.10,320.51 L196.80,320.52 L197.50,320.52 L198.19,320.53 L198.89,320.53 L199.58,320.54 L200.28,320.55 L200.98,320.55 L201.67,320.56 L202.37,320.56 L203.07,320.57 L203.76,320.58 L204.46,320.58 L205.15,320.59 L205.85,320.59 L206.55,320.60 L207.24,320.60 L207.94,320.61 L208.64,320.61 L209.33,320.62 L210.03,320.62 L210.72,320.63 L211.42,320.63 L212.12,320.63 L212.81,320.64 L213.51,320.64 L214.21,320.65 L214.90,320.65 L215.60,320.65 L216.29,320.66 L216.99,320.66 L217.69,320.67 L218.38,320.67 L219.08,320.67 L219.78,320.68 L220.47,320.68 L221.17,320.68 L221.86,320.69 L222.56,320.69 L223.26,320.69 L223.95,320.70 L224.65,320.70 L225.35,320.70 L226.04,320.70 L226.74,320.71 L227.43,320.71 L228.13,320.71 L228.83,320.71 L229.52,320.72 L230.22,320.72 L230.92,320.72 L231.61,320.72 L232.31,320.72 L233.00,320.73 L233.70,320.73 L234.40,320.73 L235.09,320.73 L235.79,320.73 L236.49,320.73 L237.18,320.74 L237.88,320.74 L238.57,320.74 L239.27,320.74 L239.97,320.74 L240.66,320.74 L241.36,320.74 L242.06,320.74 L242.75,320.74 L243.45,320.74 L244.14,320.75 L244.84,320.75 L245.54,320.75 L246.23,320.75 L246.93,320.75 L247.63,320.75 L248.32,320.75 L249.02,320.75 L249.71,320.75 L250.41,320.75 L251.11,320.75 L251.80,320.75 L252.50,320.75"/>
<path fill="none" stroke="#262626" stroke-width="1.15" stroke-linejoin="round" d="M49.20,363.00 L49.90,363.00 L50.60,363.00 L51.30,363.00 L52.00,363.00 L52.70,363.00 L53.40,363.00 L54.10,363.00 L54.80,363.00 L55.50,363.00 L56.20,363.00 L56.90,363.00 L57.60,363.00 L58.30,363.00 L59.00,363.00 L59.70,363.00 L60.40,363.00 L61.10,363.00 L61.80,363.00 L62.50,363.00 L63.20,363.00 L63.90,363.00 L64.60,363.00 L65.30,363.00 L66.00,363.00 L66.62,362.93 L67.25,362.75 L67.88,362.49 L68.50,362.20 L69.10,361.85 L69.70,361.37 L70.30,360.79 L70.90,360.16 L71.50,359.50 L72.20,358.72 L72.90,357.87 L73.60,356.83 L74.30,355.50 L74.64,354.59 L74.98,353.39 L75.32,352.00 L75.66,350.50 L76.00,349.00 L76.27,347.78 L76.53,346.47 L76.80,345.10 L77.07,343.71 L77.33,342.33 L77.60,341.00 L77.88,339.64 L78.17,338.30 L78.45,336.97 L78.73,335.65 L79.02,334.33 L79.30,333.00 L79.58,331.68 L79.87,330.39 L80.15,329.09 L80.43,327.77 L80.72,326.42 L81.00,325.00 L81.27,323.60 L81.53,322.15 L81.80,320.66 L82.07,319.13 L82.33,317.57 L82.60,316.00 L82.83,314.65 L83.06,313.28 L83.29,311.90 L83.51,310.49 L83.74,309.04 L83.97,307.55 L84.20,306.00 L84.38,304.75 L84.56,303.47 L84.74,302.17 L84.92,300.84 L85.10,299.47 L85.28,298.07 L85.46,296.62 L85.64,295.13 L85.82,293.59 L86.00,292.00 L86.13,290.78 L86.27,289.51 L86.40,288.20 L86.53,286.85 L86.67,285.47 L86.80,284.05 L86.93,282.60 L87.07,281.13 L87.20,279.63 L87.33,278.10 L87.47,276.56 L87.60,275.00 L87.71,273.69 L87.82,272.32 L87.92,270.91 L88.03,269.46 L88.14,267.98 L88.25,266.50 L88.36,265.01 L88.47,263.54 L88.58,262.09 L88.68,260.67 L88.79,259.31 L88.90,258.00 L89.04,256.41 L89.18,254.94 L89.33,253.56 L89.47,252.25 L89.61,250.96 L89.75,249.66 L89.89,248.33 L90.03,246.93 L90.17,245.43 L90.32,243.80 L90.46,242.00 L90.60,240.00 L90.66,238.97 L90.73,237.81 L90.79,236.54 L90.86,235.17 L90.92,233.72 L90.99,232.21 L91.05,230.66 L91.11,229.08 L91.18,227.49 L91.24,225.91 L91.31,224.35 L91.37,222.83 L91.44,221.38 L91.50,220.00 L91.58,218.35 L91.65,216.54 L91.72,214.64 L91.80,212.70 L91.88,210.77 L91.95,208.92 L92.03,207.19 L92.10,205.65 L92.18,204.36 L92.25,203.36 L92.33,202.73 L92.40,202.50 L92.70,203.31 L93.00,205.12 L93.30,207.00 L93.54,208.32 L93.78,209.70 L94.02,211.12 L94.26,212.56 L94.50,214.00 L94.72,215.30 L94.93,216.61 L95.15,217.93 L95.37,219.27 L95.58,220.62 L95.80,222.00 L96.00,223.30 L96.20,224.62 L96.40,225.96 L96.60,227.31 L96.80,228.66 L97.00,230.00 L97.20,231.22 L97.40,232.44 L97.60,234.00 L97.69,234.95 L97.77,236.14 L97.86,237.50 L97.95,238.99 L98.04,240.54 L98.12,242.10 L98.21,243.61 L98.30,245.00 L98.40,246.51 L98.50,248.01 L98.60,249.51 L98.70,250.99 L98.80,252.45 L98.90,253.88 L99.00,255.29 L99.10,256.67 L99.20,258.00 L99.33,259.58 L99.45,261.08 L99.58,262.51 L99.70,263.92 L99.83,265.34 L99.95,266.81 L100.08,268.35 L100.20,270.00 L100.29,271.28 L100.38,272.65 L100.47,274.10 L100.56,275.61 L100.65,277.17 L100.74,278.78 L100.83,280.43 L100.92,282.09 L101.01,283.77 L101.10,285.45 L101.19,287.12 L101.28,288.77 L101.37,290.39 L101.46,291.97 L101.55,293.50 L101.64,294.96 L101.73,296.36 L101.82,297.67 L101.91,298.89 L102.00,300.00 L102.17,301.95 L102.33,303.89 L102.50,305.79 L102.67,307.63 L102.83,309.39 L103.00,311.06 L103.17,312.61 L103.33,314.03 L103.50,315.30 L103.67,316.40 L103.83,317.30 L104.00,318.00 L104.67,320.13 L105.33,321.88 L106.00,323.28 L106.67,324.41 L107.33,325.29 L108.00,326.00 L108.67,326.63 L109.33,327.21 L110.00,327.73 L110.67,328.13 L111.33,328.40 L112.00,328.50 L112.67,328.50 L113.33,328.50 L114.00,328.50 L114.67,328.50 L115.33,328.50 L116.00,328.50 L116.67,328.50 L117.33,328.50 L118.00,328.50 L118.67,328.50 L119.33,328.50 L120.00,328.50 L120.62,328.46 L121.25,328.35 L121.88,328.18 L122.50,327.97 L123.12,327.73 L123.75,327.48 L124.38,327.23 L125.00,327.00 L125.70,326.74 L126.40,326.46 L127.10,326.16 L127.80,325.84 L128.50,325.52 L129.20,325.20 L129.90,324.88 L130.60,324.57 L131.30,324.27 L132.00,324.00 L132.67,323.75 L133.33,323.51 L134.00,323.27 L134.67,323.03 L135.33,322.80 L136.00,322.59 L136.67,322.38 L137.33,322.18 L138.00,322.00 L138.70,321.82 L139.40,321.64 L140.10,321.48 L140.80,321.32 L141.50,321.16 L142.20,321.01 L142.90,320.87 L143.60,320.74 L144.30,320.62 L145.00,320.50 L145.70,320.39 L146.40,320.28 L147.10,320.17 L147.80,320.07 L148.50,319.97 L149.20,319.88 L149.90,319.80 L150.60,319.72 L151.30,319.66 L152.00,319.60 L152.67,319.55 L153.33,319.50 L154.00,319.46 L154.67,319.42 L155.33,319.38 L156.00,319.35 L156.67,319.32 L157.33,319.31 L158.00,319.30 L158.70,319.31 L159.40,319.32 L160.10,319.35 L160.80,319.39 L161.50,319.43 L162.20,319.48 L162.90,319.54 L163.60,319.60 L164.30,319.66 L165.00,319.72 L165.70,319.79 L166.40,319.85 L167.10,319.91 L167.80,319.97 L168.50,320.03 L169.20,320.08 L169.90,320.12 L170.60,320.16 L171.30,320.18 L172.00,320.20 L172.69,320.21 L173.39,320.22 L174.08,320.23 L174.78,320.24 L175.47,320.25 L176.16,320.26 L176.86,320.27 L177.55,320.28 L178.25,320.29 L178.94,320.30 L179.63,320.31 L180.33,320.32 L181.02,320.33 L181.72,320.34 L182.41,320.35 L183.10,320.35 L183.80,320.36 L184.49,320.37 L185.19,320.38 L185.88,320.39 L186.57,320.40 L187.27,320.40 L187.96,320.41 L188.66,320.42 L189.35,320.43 L190.04,320.44 L190.74,320.44 L191.43,320.45 L192.12,320.46 L192.82,320.47 L193.51,320.47 L194.21,320.48 L194.90,320.49 L195.59,320.49 L196.29,320.50 L196.98,320.51 L197.68,320.51 L198.37,320.52 L199.06,320.53 L199.76,320.53 L200.45,320.54 L201.15,320.54 L201.84,320.55 L202.53,320.56 L203.23,320.56 L203.92,320.57 L204.62,320.57 L205.31,320.58 L206.00,320.58 L206.70,320.59 L207.39,320.59 L208.09,320.60 L208.78,320.60 L209.47,320.61 L210.17,320.61 L210.86,320.62 L211.56,320.62 L212.25,320.63 L212.94,320.63 L213.64,320.64 L214.33,320.64 L215.03,320.65 L215.72,320.65 L216.41,320.65 L217.11,320.66 L217.80,320.66 L218.50,320.66 L219.19,320.67 L219.88,320.67 L220.58,320.68 L221.27,320.68 L221.97,320.68 L222.66,320.69 L223.35,320.69 L224.05,320.69 L224.74,320.69 L225.44,320.70 L226.13,320.70 L226.82,320.70 L227.52,320.71 L228.21,320.71 L228.91,320.71 L229.60,320.71 L230.29,320.72 L230.99,320.72 L231.68,320.72 L232.38,320.72 L233.07,320.72 L233.76,320.73 L234.46,320.73 L235.15,320.73 L235.84,320.73 L236.54,320.73 L237.23,320.73 L237.93,320.74 L238.62,320.74 L239.31,320.74 L240.01,320.74 L240.70,320.74 L241.40,320.74 L242.09,320.74 L242.78,320.74 L243.48,320.74 L244.17,320.75 L244.87,320.75 L245.56,320.75 L246.25,320.75 L246.95,320.75 L247.64,320.75 L248.34,320.75 L249.03,320.75 L249.72,320.75 L250.42,320.75 L251.11,320.75 L251.81,320.75 L252.50,320.75"/>
</g>

<g clip-path="url(#cBR)">
<path fill="none" stroke="#222" stroke-width="1.1" stroke-dasharray="4.5 2.5" stroke-dashoffset="0.00" d="M293.50,362.80 L294.18,362.80 L294.87,362.80 L295.55,362.80 L296.23,362.80 L296.92,362.80 L297.60,362.80 L298.28,362.80 L298.97,362.80 L299.65,362.80 L300.33,362.80 L301.02,362.80 L301.70,362.80 L302.38,362.80 L303.07,362.80 L303.75,362.80 L304.43,362.80 L305.12,362.80 L305.80,362.80 L306.48,362.80 L307.17,362.80 L307.85,362.80 L308.53,362.80 L309.22,362.80 L309.90,362.80 L310.58,362.80 L311.27,362.80 L311.95,362.80 L312.63,362.80 L313.32,362.80 L314.00,362.80 L314.60,362.74 L315.20,362.57 L315.80,362.32 L316.40,362.00 L316.91,361.42 L317.43,360.34 L317.94,358.89 L318.46,357.20 L318.97,355.40 L319.49,353.63 L320.00,352.00 L320.45,350.51 L320.90,348.76 L321.35,346.91 L321.80,345.08 L322.25,343.42 L322.70,342.05 L323.15,341.14 L323.60,340.80 L324.20,340.97 L324.80,341.40 L325.40,341.96 L326.00,342.50 L326.67,343.08 L327.33,343.73 L328.00,344.41 L328.67,345.12 L329.33,345.82 L330.00,346.50 L330.64,347.16 L331.28,347.87 L331.92,348.61 L332.56,349.35 L333.20,350.08 L333.84,350.77 L334.48,351.41 L335.12,351.97 L335.76,352.44 L336.40,352.80 L337.02,353.07 L337.64,353.32 L338.27,353.55 L338.89,353.75 L339.51,353.93 L340.13,354.10 L340.76,354.25 L341.38,354.38 L342.00,354.50 L342.67,354.62 L343.33,354.74 L344.00,354.86 L344.67,354.97 L345.33,355.08 L346.00,355.18 L346.67,355.27 L347.33,355.35 L348.00,355.41 L348.67,355.46 L349.33,355.49 L350.00,355.50 L350.68,355.49 L351.36,355.47 L352.05,355.42 L352.73,355.37 L353.41,355.30 L354.09,355.23 L354.77,355.14 L355.45,355.05 L356.14,354.95 L356.82,354.85 L357.50,354.75 L358.18,354.65 L358.86,354.55 L359.55,354.45 L360.23,354.36 L360.91,354.27 L361.59,354.20 L362.27,354.13 L362.95,354.08 L363.64,354.03 L364.32,354.01 L365.00,354.00 L365.68,354.01 L366.36,354.02 L367.05,354.05 L367.73,354.09 L368.41,354.13 L369.09,354.18 L369.77,354.24 L370.45,354.30 L371.14,354.36 L371.82,354.43 L372.50,354.49 L373.18,354.56 L373.86,354.63 L374.55,354.69 L375.23,354.75 L375.91,354.81 L376.59,354.86 L377.27,354.91 L377.95,354.94 L378.64,354.97 L379.32,354.99 L380.00,355.00 L380.70,355.00 L381.39,355.00 L382.09,355.01 L382.79,355.01 L383.48,355.01 L384.18,355.01 L384.87,355.02 L385.57,355.02 L386.27,355.02 L386.96,355.02 L387.66,355.03 L388.36,355.03 L389.05,355.03 L389.75,355.03 L390.45,355.03 L391.14,355.04 L391.84,355.04 L392.54,355.04 L393.23,355.04 L393.93,355.04 L394.62,355.05 L395.32,355.05 L396.02,355.05 L396.71,355.05 L397.41,355.05 L398.11,355.06 L398.80,355.06 L399.50,355.06 L400.20,355.06 L400.89,355.06 L401.59,355.07 L402.29,355.07 L402.98,355.07 L403.68,355.07 L404.37,355.07 L405.07,355.07 L405.77,355.08 L406.46,355.08 L407.16,355.08 L407.86,355.08 L408.55,355.08 L409.25,355.08 L409.95,355.09 L410.64,355.09 L411.34,355.09 L412.03,355.09 L412.73,355.09 L413.43,355.09 L414.12,355.09 L414.82,355.10 L415.52,355.10 L416.21,355.10 L416.91,355.10 L417.61,355.10 L418.30,355.10 L419.00,355.10 L419.70,355.10 L420.39,355.11 L421.09,355.11 L421.78,355.11 L422.48,355.11 L423.18,355.11 L423.87,355.11 L424.57,355.11 L425.27,355.11 L425.96,355.12 L426.66,355.12 L427.36,355.12 L428.05,355.12 L428.75,355.12 L429.44,355.12 L430.14,355.12 L430.84,355.12 L431.53,355.12 L432.23,355.12 L432.93,355.13 L433.62,355.13 L434.32,355.13 L435.02,355.13 L435.71,355.13 L436.41,355.13 L437.11,355.13 L437.80,355.13 L438.50,355.13 L439.19,355.13 L439.89,355.13 L440.59,355.13 L441.28,355.14 L441.98,355.14 L442.68,355.14 L443.37,355.14 L444.07,355.14 L444.77,355.14 L445.46,355.14 L446.16,355.14 L446.86,355.14 L447.55,355.14 L448.25,355.14 L448.94,355.14 L449.64,355.14 L450.34,355.14 L451.03,355.14 L451.73,355.15 L452.43,355.15 L453.12,355.15 L453.82,355.15 L454.52,355.15 L455.21,355.15 L455.91,355.15 L456.60,355.15 L457.30,355.15 L458.00,355.15 L458.69,355.15 L459.39,355.15 L460.09,355.15 L460.78,355.15 L461.48,355.15 L462.18,355.15 L462.87,355.15 L463.57,355.15 L464.27,355.15 L464.96,355.15 L465.66,355.15 L466.35,355.15 L467.05,355.15 L467.75,355.15 L468.44,355.16 L469.14,355.16 L469.84,355.16 L470.53,355.16 L471.23,355.16 L471.93,355.16 L472.62,355.16 L473.32,355.16 L474.01,355.16 L474.71,355.16 L475.41,355.16 L476.10,355.16 L476.80,355.16 L477.50,355.16 L478.19,355.16 L478.89,355.16 L479.59,355.16 L480.28,355.16 L480.98,355.16 L481.68,355.16 L482.37,355.16 L483.07,355.16 L483.76,355.16 L484.46,355.16 L485.16,355.16 L485.85,355.16 L486.55,355.16 L487.25,355.16 L487.94,355.16 L488.64,355.16 L489.34,355.16 L490.03,355.16 L490.73,355.16 L491.43,355.16 L492.12,355.16 L492.82,355.16 L493.51,355.16 L494.21,355.16 L494.91,355.16 L495.60,355.16 L496.30,355.16"/>
<path fill="none" stroke="#000" stroke-width="2.0" stroke-dasharray="8 5" stroke-dashoffset="6.20" d="M293.50,362.80 L294.19,362.80 L294.88,362.80 L295.56,362.80 L296.25,362.80 L296.94,362.80 L297.62,362.80 L298.31,362.80 L299.00,362.80 L299.69,362.80 L300.38,362.80 L301.06,362.80 L301.75,362.80 L302.44,362.80 L303.12,362.80 L303.81,362.80 L304.50,362.80 L305.19,362.80 L305.88,362.80 L306.56,362.80 L307.25,362.80 L307.94,362.80 L308.62,362.80 L309.31,362.80 L310.00,362.80 L310.69,362.80 L311.38,362.80 L312.06,362.80 L312.75,362.80 L313.44,362.80 L314.12,362.80 L314.81,362.80 L315.50,362.80 L316.19,362.80 L316.88,362.80 L317.56,362.80 L318.25,362.80 L318.94,362.80 L319.62,362.80 L320.31,362.80 L321.00,362.80 L321.50,362.30 L322.00,361.17 L322.50,360.00 L323.05,358.73 L323.60,357.60 L324.20,356.76 L324.80,356.04 L325.40,355.45 L326.00,355.00 L326.64,354.59 L327.28,354.21 L327.92,353.90 L328.56,353.68 L329.20,353.60 L329.83,353.65 L330.47,353.78 L331.10,353.96 L331.73,354.16 L332.37,354.35 L333.00,354.50 L333.70,354.62 L334.40,354.74 L335.10,354.85 L335.80,354.96 L336.50,355.06 L337.20,355.15 L337.90,355.24 L338.60,355.33 L339.30,355.42 L340.00,355.50 L340.67,355.58 L341.33,355.67 L342.00,355.76 L342.67,355.85 L343.33,355.94 L344.00,356.02 L344.67,356.11 L345.33,356.19 L346.00,356.26 L346.67,356.33 L347.33,356.39 L348.00,356.43 L348.67,356.47 L349.33,356.49 L350.00,356.50 L350.67,356.50 L351.33,356.50 L352.00,356.49 L352.67,356.48 L353.33,356.47 L354.00,356.46 L354.67,356.45 L355.33,356.44 L356.00,356.42 L356.67,356.40 L357.33,356.38 L358.00,356.37 L358.67,356.34 L359.33,356.32 L360.00,356.30 L360.67,356.26 L361.33,356.20 L362.00,356.12 L362.67,356.02 L363.33,355.91 L364.00,355.79 L364.67,355.67 L365.33,355.54 L366.00,355.42 L366.67,355.31 L367.33,355.21 L368.00,355.12 L368.67,355.06 L369.33,355.02 L370.00,355.00 L370.70,355.00 L371.40,355.00 L372.09,355.00 L372.79,355.00 L373.49,355.00 L374.19,355.00 L374.88,355.00 L375.58,355.00 L376.28,355.00 L376.98,355.00 L377.68,355.00 L378.37,355.00 L379.07,355.00 L379.77,355.00 L380.47,355.00 L381.16,355.00 L381.86,355.00 L382.56,355.00 L383.26,355.00 L383.96,355.00 L384.65,355.00 L385.35,355.00 L386.05,355.00 L386.75,355.00 L387.44,355.00 L388.14,355.00 L388.84,355.00 L389.54,355.00 L390.24,355.00 L390.93,355.00 L391.63,355.00 L392.33,355.00 L393.03,355.00 L393.72,355.00 L394.42,355.00 L395.12,355.00 L395.82,355.00 L396.52,355.00 L397.21,355.00 L397.91,355.00 L398.61,355.00 L399.31,355.00 L400.00,355.00 L400.70,355.00 L401.40,355.00 L402.10,355.00 L402.80,355.00 L403.49,355.00 L404.19,355.00 L404.89,355.00 L405.59,355.00 L406.29,355.00 L406.98,355.00 L407.68,355.00 L408.38,355.00 L409.08,355.00 L409.77,355.00 L410.47,355.01 L411.17,355.01 L411.87,355.01 L412.57,355.01 L413.26,355.01 L413.96,355.01 L414.66,355.01 L415.36,355.01 L416.05,355.01 L416.75,355.01 L417.45,355.01 L418.15,355.01 L418.85,355.01 L419.54,355.01 L420.24,355.01 L420.94,355.01 L421.64,355.01 L422.33,355.01 L423.03,355.01 L423.73,355.01 L424.43,355.01 L425.13,355.01 L425.82,355.01 L426.52,355.01 L427.22,355.01 L427.92,355.02 L428.61,355.02 L429.31,355.02 L430.01,355.02 L430.71,355.02 L431.41,355.02 L432.10,355.02 L432.80,355.02 L433.50,355.02 L434.20,355.02 L434.89,355.02 L435.59,355.02 L436.29,355.02 L436.99,355.02 L437.69,355.02 L438.38,355.03 L439.08,355.03 L439.78,355.03 L440.48,355.03 L441.17,355.03 L441.87,355.03 L442.57,355.03 L443.27,355.03 L443.97,355.03 L444.66,355.03 L445.36,355.03 L446.06,355.03 L446.76,355.04 L447.45,355.04 L448.15,355.04 L448.85,355.04 L449.55,355.04 L450.25,355.04 L450.94,355.04 L451.64,355.04 L452.34,355.04 L453.04,355.05 L453.73,355.05 L454.43,355.05 L455.13,355.05 L455.83,355.05 L456.53,355.05 L457.22,355.05 L457.92,355.05 L458.62,355.06 L459.32,355.06 L460.01,355.06 L460.71,355.06 L461.41,355.06 L462.11,355.06 L462.81,355.06 L463.50,355.06 L464.20,355.07 L464.90,355.07 L465.60,355.07 L466.30,355.07 L466.99,355.07 L467.69,355.07 L468.39,355.08 L469.09,355.08 L469.78,355.08 L470.48,355.08 L471.18,355.08 L471.88,355.08 L472.58,355.09 L473.27,355.09 L473.97,355.09 L474.67,355.09 L475.37,355.09 L476.06,355.09 L476.76,355.10 L477.46,355.10 L478.16,355.10 L478.86,355.10 L479.55,355.10 L480.25,355.11 L480.95,355.11 L481.65,355.11 L482.34,355.11 L483.04,355.11 L483.74,355.12 L484.44,355.12 L485.14,355.12 L485.83,355.12 L486.53,355.13 L487.23,355.13 L487.93,355.13 L488.62,355.13 L489.32,355.13 L490.02,355.14 L490.72,355.14 L491.42,355.14 L492.11,355.14 L492.81,355.15 L493.51,355.15 L494.21,355.15 L494.90,355.15 L495.60,355.16 L496.30,355.16"/>
<path fill="none" stroke="#000" stroke-width="2.0" stroke-linejoin="round" d="M293.50,362.80 L294.17,362.80 L294.84,362.80 L295.51,362.80 L296.18,362.80 L296.85,362.80 L297.52,362.80 L298.18,362.80 L298.85,362.80 L299.52,362.80 L300.19,362.80 L300.86,362.80 L301.53,362.80 L302.20,362.80 L302.22,362.63 L302.25,362.13 L302.27,361.35 L302.30,360.31 L302.32,359.04 L302.35,357.59 L302.38,355.98 L302.40,354.25 L302.43,352.43 L302.45,350.56 L302.48,348.66 L302.50,346.77 L302.53,344.93 L302.55,343.16 L302.58,341.51 L302.60,340.00 L302.63,338.50 L302.65,336.98 L302.68,335.43 L302.70,333.86 L302.73,332.27 L302.76,330.66 L302.78,329.04 L302.81,327.42 L302.83,325.79 L302.86,324.16 L302.89,322.54 L302.91,320.92 L302.94,319.31 L302.96,317.72 L302.99,316.15 L303.01,314.59 L303.04,313.07 L303.07,311.57 L303.09,310.10 L303.12,308.67 L303.14,307.29 L303.17,305.94 L303.20,304.64 L303.22,303.40 L303.25,302.20 L303.27,301.07 L303.30,300.00 L303.35,298.03 L303.40,296.12 L303.45,294.28 L303.50,292.49 L303.55,290.76 L303.60,289.08 L303.65,287.46 L303.70,285.89 L303.75,284.36 L303.80,282.88 L303.85,281.44 L303.90,280.04 L303.95,278.68 L304.00,277.35 L304.05,276.06 L304.10,274.79 L304.15,273.56 L304.20,272.35 L304.25,271.16 L304.30,270.00 L304.38,268.08 L304.46,266.10 L304.54,264.07 L304.62,262.03 L304.71,260.00 L304.79,258.01 L304.87,256.08 L304.95,254.25 L305.03,252.53 L305.11,250.95 L305.19,249.55 L305.28,248.34 L305.36,247.36 L305.44,246.62 L305.52,246.16 L305.60,246.00 L305.69,246.20 L305.78,246.77 L305.87,247.67 L305.96,248.86 L306.05,250.30 L306.15,251.96 L306.24,253.78 L306.33,255.74 L306.42,257.79 L306.51,259.89 L306.60,262.00 L306.64,263.04 L306.68,264.22 L306.73,265.53 L306.77,266.94 L306.81,268.44 L306.85,270.01 L306.89,271.64 L306.93,273.31 L306.98,274.99 L307.02,276.68 L307.06,278.36 L307.10,280.00 L307.14,281.38 L307.17,282.80 L307.21,284.26 L307.24,285.74 L307.28,287.24 L307.31,288.77 L307.35,290.31 L307.38,291.87 L307.42,293.43 L307.45,295.00 L307.49,296.57 L307.52,298.13 L307.56,299.69 L307.59,301.23 L307.62,302.76 L307.66,304.26 L307.69,305.74 L307.73,307.20 L307.76,308.62 L307.80,310.00 L307.84,311.60 L307.88,313.20 L307.92,314.80 L307.96,316.39 L308.01,317.96 L308.05,319.52 L308.09,321.07 L308.13,322.59 L308.17,324.10 L308.21,325.57 L308.25,327.03 L308.29,328.45 L308.34,329.83 L308.38,331.19 L308.42,332.50 L308.46,333.77 L308.50,335.00 L308.56,336.78 L308.62,338.57 L308.68,340.36 L308.74,342.10 L308.80,343.77 L308.86,345.34 L308.92,346.78 L308.98,348.06 L309.04,349.14 L309.10,350.00 L309.28,352.03 L309.46,353.72 L309.64,355.10 L309.82,356.18 L310.00,357.00 L310.63,359.16 L311.27,360.69 L311.90,361.50 L312.42,361.82 L312.95,362.06 L313.48,362.23 L314.00,362.30 L314.67,362.32 L315.33,362.34 L316.00,362.36 L316.67,362.37 L317.33,362.38 L318.00,362.39 L318.67,362.40 L319.33,362.40 L320.00,362.40 L320.68,362.40 L321.36,362.40 L322.05,362.39 L322.73,362.39 L323.41,362.38 L324.09,362.38 L324.77,362.37 L325.45,362.36 L326.14,362.35 L326.82,362.33 L327.50,362.32 L328.18,362.31 L328.86,362.29 L329.55,362.27 L330.23,362.26 L330.91,362.24 L331.59,362.22 L332.27,362.20 L332.95,362.17 L333.64,362.15 L334.32,362.13 L335.00,362.10 L335.70,362.07 L336.40,362.03 L337.10,361.97 L337.80,361.91 L338.50,361.83 L339.20,361.74 L339.90,361.63 L340.60,361.50 L341.30,361.36 L342.00,361.20 L342.60,360.94 L343.20,360.50 L343.80,359.96 L344.40,359.37 L345.00,358.80 L345.66,358.20 L346.32,357.58 L346.98,356.93 L347.64,356.24 L348.30,355.50 L348.93,354.73 L349.56,353.90 L350.19,353.03 L350.81,352.11 L351.44,351.18 L352.07,350.24 L352.70,349.30 L353.26,348.47 L353.82,347.64 L354.38,346.79 L354.94,345.91 L355.50,345.00 L356.02,344.08 L356.55,343.10 L357.08,342.13 L357.60,341.20 L358.10,340.19 L358.60,339.60 L359.00,339.81 L359.40,340.30 L359.73,341.09 L360.07,342.40 L360.40,344.00 L360.58,345.13 L360.76,346.59 L360.94,348.18 L361.12,349.71 L361.30,351.00 L361.57,352.76 L361.85,354.46 L362.12,355.81 L362.40,356.50 L363.00,356.99 L363.60,357.30 L364.20,357.40 L364.84,357.39 L365.49,357.37 L366.13,357.33 L366.78,357.29 L367.42,357.23 L368.07,357.17 L368.71,357.11 L369.36,357.06 L370.00,357.00 L370.62,356.94 L371.25,356.88 L371.88,356.81 L372.50,356.74 L373.12,356.67 L373.75,356.60 L374.38,356.55 L375.00,356.50 L375.69,356.46 L376.39,356.42 L377.08,356.38 L377.78,356.34 L378.47,356.30 L379.17,356.27 L379.86,356.24 L380.56,356.20 L381.25,356.17 L381.94,356.14 L382.64,356.11 L383.33,356.09 L384.03,356.06 L384.72,356.04 L385.42,356.01 L386.11,355.99 L386.81,355.96 L387.50,355.94 L388.19,355.92 L388.89,355.89 L389.58,355.87 L390.28,355.85 L390.97,355.83 L391.67,355.80 L392.36,355.78 L393.06,355.76 L393.75,355.74 L394.44,355.71 L395.14,355.69 L395.83,355.66 L396.53,355.64 L397.22,355.61 L397.92,355.59 L398.61,355.56 L399.31,355.53 L400.00,355.50 L400.68,355.47 L401.35,355.44 L402.03,355.40 L402.71,355.36 L403.39,355.33 L404.06,355.29 L404.74,355.25 L405.42,355.20 L406.10,355.16 L406.77,355.12 L407.45,355.08 L408.13,355.03 L408.81,354.99 L409.48,354.95 L410.16,354.91 L410.84,354.87 L411.52,354.83 L412.19,354.79 L412.87,354.75 L413.55,354.71 L414.23,354.68 L414.90,354.65 L415.58,354.62 L416.26,354.59 L416.94,354.57 L417.61,354.55 L418.29,354.53 L418.97,354.52 L419.65,354.51 L420.32,354.50 L421.00,354.50 L421.68,354.50 L422.36,354.51 L423.04,354.51 L423.71,354.53 L424.39,354.54 L425.07,354.55 L425.75,354.57 L426.43,354.59 L427.11,354.61 L427.79,354.64 L428.46,354.66 L429.14,354.68 L429.82,354.71 L430.50,354.74 L431.18,354.76 L431.86,354.79 L432.54,354.81 L433.21,354.84 L433.89,354.86 L434.57,354.88 L435.25,354.91 L435.93,354.93 L436.61,354.94 L437.29,354.96 L437.96,354.97 L438.64,354.99 L439.32,354.99 L440.00,355.00 L440.70,355.00 L441.39,355.01 L442.09,355.01 L442.78,355.02 L443.48,355.02 L444.17,355.02 L444.87,355.03 L445.56,355.03 L446.26,355.03 L446.95,355.04 L447.65,355.04 L448.34,355.05 L449.04,355.05 L449.73,355.05 L450.43,355.06 L451.12,355.06 L451.82,355.06 L452.51,355.06 L453.21,355.07 L453.90,355.07 L454.60,355.07 L455.29,355.08 L455.99,355.08 L456.68,355.08 L457.38,355.09 L458.07,355.09 L458.77,355.09 L459.46,355.09 L460.16,355.10 L460.85,355.10 L461.55,355.10 L462.24,355.10 L462.94,355.11 L463.63,355.11 L464.33,355.11 L465.02,355.11 L465.72,355.11 L466.41,355.12 L467.11,355.12 L467.80,355.12 L468.50,355.12 L469.19,355.12 L469.89,355.13 L470.58,355.13 L471.28,355.13 L471.97,355.13 L472.67,355.13 L473.36,355.13 L474.06,355.14 L474.75,355.14 L475.45,355.14 L476.14,355.14 L476.84,355.14 L477.53,355.14 L478.23,355.14 L478.92,355.15 L479.62,355.15 L480.31,355.15 L481.01,355.15 L481.70,355.15 L482.40,355.15 L483.09,355.15 L483.79,355.15 L484.48,355.15 L485.18,355.15 L485.87,355.15 L486.57,355.16 L487.26,355.16 L487.96,355.16 L488.65,355.16 L489.35,355.16 L490.04,355.16 L490.74,355.16 L491.43,355.16 L492.13,355.16 L492.82,355.16 L493.52,355.16 L494.21,355.16 L494.91,355.16 L495.60,355.16 L496.30,355.16"/>
<path fill="none" stroke="#262626" stroke-width="1.15" stroke-linejoin="round" d="M293.50,362.80 L294.16,362.80 L294.82,362.80 L295.48,362.80 L296.15,362.80 L296.81,362.80 L297.47,362.80 L298.13,362.80 L298.79,362.80 L299.45,362.80 L300.12,362.80 L300.78,362.80 L301.44,362.80 L302.10,362.80 L302.13,362.66 L302.15,362.25 L302.18,361.59 L302.21,360.70 L302.24,359.61 L302.26,358.33 L302.29,356.89 L302.32,355.31 L302.35,353.60 L302.37,351.79 L302.40,349.91 L302.43,347.97 L302.45,345.99 L302.48,343.99 L302.51,342.00 L302.54,340.04 L302.56,338.12 L302.59,336.28 L302.62,334.52 L302.65,332.87 L302.67,331.36 L302.70,330.00 L302.74,328.29 L302.77,326.62 L302.81,324.98 L302.85,323.38 L302.89,321.82 L302.92,320.28 L302.96,318.77 L303.00,317.28 L303.03,315.82 L303.07,314.37 L303.11,312.94 L303.14,311.52 L303.18,310.12 L303.22,308.72 L303.26,307.33 L303.29,305.93 L303.33,304.54 L303.37,303.15 L303.40,301.75 L303.44,300.34 L303.48,298.92 L303.51,297.48 L303.55,296.03 L303.59,294.56 L303.63,293.06 L303.66,291.55 L303.70,290.00 L303.73,288.59 L303.77,287.16 L303.80,285.72 L303.83,284.27 L303.87,282.81 L303.90,281.33 L303.93,279.85 L303.97,278.36 L304.00,276.86 L304.03,275.36 L304.07,273.85 L304.10,272.34 L304.13,270.83 L304.17,269.32 L304.20,267.80 L304.23,266.29 L304.27,264.77 L304.30,263.27 L304.33,261.76 L304.37,260.26 L304.40,258.77 L304.43,257.28 L304.47,255.80 L304.50,254.34 L304.53,252.88 L304.57,251.43 L304.60,250.00 L304.64,248.43 L304.67,246.76 L304.71,245.03 L304.74,243.23 L304.78,241.37 L304.81,239.47 L304.85,237.55 L304.89,235.59 L304.92,233.63 L304.96,231.67 L304.99,229.72 L305.03,227.80 L305.06,225.90 L305.10,224.05 L305.14,222.26 L305.17,220.52 L305.21,218.87 L305.24,217.30 L305.28,215.83 L305.31,214.47 L305.35,213.23 L305.39,212.12 L305.42,211.15 L305.46,210.33 L305.49,209.68 L305.53,209.20 L305.56,208.90 L305.60,208.80 L305.63,208.91 L305.66,209.22 L305.70,209.72 L305.73,210.40 L305.76,211.25 L305.79,212.26 L305.82,213.41 L305.86,214.69 L305.89,216.09 L305.92,217.60 L305.95,219.21 L305.98,220.90 L306.02,222.66 L306.05,224.48 L306.08,226.35 L306.11,228.25 L306.14,230.18 L306.18,232.12 L306.21,234.06 L306.24,235.98 L306.27,237.89 L306.30,239.75 L306.34,241.56 L306.37,243.32 L306.40,245.00 L306.42,246.31 L306.45,247.67 L306.47,249.07 L306.50,250.51 L306.52,251.99 L306.55,253.50 L306.57,255.03 L306.60,256.58 L306.62,258.15 L306.65,259.72 L306.68,261.31 L306.70,262.89 L306.72,264.46 L306.75,266.03 L306.77,267.58 L306.80,269.10 L306.82,270.61 L306.85,272.08 L306.88,273.52 L306.90,274.92 L306.93,276.27 L306.95,277.57 L306.98,278.81 L307.00,280.00 L307.04,281.81 L307.08,283.57 L307.12,285.26 L307.16,286.91 L307.20,288.51 L307.24,290.06 L307.28,291.58 L307.32,293.07 L307.36,294.52 L307.40,295.96 L307.44,297.37 L307.48,298.77 L307.52,300.16 L307.56,301.54 L307.60,302.93 L307.64,304.32 L307.68,305.71 L307.72,307.12 L307.76,308.55 L307.80,310.00 L307.84,311.52 L307.88,313.05 L307.92,314.60 L307.96,316.16 L308.01,317.72 L308.05,319.27 L308.09,320.83 L308.13,322.37 L308.17,323.90 L308.21,325.41 L308.25,326.89 L308.29,328.34 L308.34,329.76 L308.38,331.14 L308.42,332.48 L308.46,333.77 L308.50,335.00 L308.56,336.78 L308.62,338.57 L308.68,340.36 L308.74,342.10 L308.80,343.77 L308.86,345.34 L308.92,346.78 L308.98,348.06 L309.04,349.14 L309.10,350.00 L309.28,352.03 L309.46,353.72 L309.64,355.10 L309.82,356.18 L310.00,357.00 L310.63,359.16 L311.27,360.69 L311.90,361.50 L312.42,361.82 L312.95,362.06 L313.48,362.23 L314.00,362.30 L314.67,362.32 L315.33,362.34 L316.00,362.36 L316.67,362.37 L317.33,362.38 L318.00,362.39 L318.67,362.40 L319.33,362.40 L320.00,362.40 L320.68,362.40 L321.36,362.40 L322.05,362.39 L322.73,362.39 L323.41,362.38 L324.09,362.38 L324.77,362.37 L325.45,362.36 L326.14,362.35 L326.82,362.33 L327.50,362.32 L328.18,362.31 L328.86,362.29 L329.55,362.27 L330.23,362.26 L330.91,362.24 L331.59,362.22 L332.27,362.20 L332.95,362.17 L333.64,362.15 L334.32,362.13 L335.00,362.10 L335.70,362.07 L336.40,362.03 L337.10,361.97 L337.80,361.91 L338.50,361.83 L339.20,361.74 L339.90,361.63 L340.60,361.50 L341.30,361.36 L342.00,361.20 L342.60,360.94 L343.20,360.50 L343.80,359.96 L344.40,359.37 L345.00,358.80 L345.66,358.20 L346.32,357.58 L346.98,356.93 L347.64,356.24 L348.30,355.50 L348.93,354.73 L349.56,353.90 L350.19,353.03 L350.81,352.11 L351.44,351.18 L352.07,350.24 L352.70,349.30 L353.26,348.47 L353.82,347.64 L354.38,346.79 L354.94,345.91 L355.50,345.00 L356.02,344.08 L356.55,343.10 L357.08,342.13 L357.60,341.20 L358.10,340.19 L358.60,339.60 L359.00,339.81 L359.40,340.30 L359.73,341.09 L360.07,342.40 L360.40,344.00 L360.58,345.13 L360.76,346.59 L360.94,348.18 L361.12,349.71 L361.30,351.00 L361.57,352.76 L361.85,354.46 L362.12,355.81 L362.40,356.50 L363.00,356.99 L363.60,357.30 L364.20,357.40 L364.84,357.39 L365.49,357.37 L366.13,357.33 L366.78,357.29 L367.42,357.23 L368.07,357.17 L368.71,357.11 L369.36,357.06 L370.00,357.00 L370.62,356.94 L371.25,356.88 L371.88,356.81 L372.50,356.74 L373.12,356.67 L373.75,356.60 L374.38,356.55 L375.00,356.50 L375.69,356.46 L376.39,356.42 L377.08,356.38 L377.78,356.34 L378.47,356.30 L379.17,356.27 L379.86,356.24 L380.56,356.20 L381.25,356.17 L381.94,356.14 L382.64,356.11 L383.33,356.09 L384.03,356.06 L384.72,356.04 L385.42,356.01 L386.11,355.99 L386.81,355.96 L387.50,355.94 L388.19,355.92 L388.89,355.89 L389.58,355.87 L390.28,355.85 L390.97,355.83 L391.67,355.80 L392.36,355.78 L393.06,355.76 L393.75,355.74 L394.44,355.71 L395.14,355.69 L395.83,355.66 L396.53,355.64 L397.22,355.61 L397.92,355.59 L398.61,355.56 L399.31,355.53 L400.00,355.50 L400.68,355.47 L401.35,355.44 L402.03,355.40 L402.71,355.36 L403.39,355.33 L404.06,355.29 L404.74,355.25 L405.42,355.20 L406.10,355.16 L406.77,355.12 L407.45,355.08 L408.13,355.03 L408.81,354.99 L409.48,354.95 L410.16,354.91 L410.84,354.87 L411.52,354.83 L412.19,354.79 L412.87,354.75 L413.55,354.71 L414.23,354.68 L414.90,354.65 L415.58,354.62 L416.26,354.59 L416.94,354.57 L417.61,354.55 L418.29,354.53 L418.97,354.52 L419.65,354.51 L420.32,354.50 L421.00,354.50 L421.68,354.50 L422.36,354.51 L423.04,354.51 L423.71,354.53 L424.39,354.54 L425.07,354.55 L425.75,354.57 L426.43,354.59 L427.11,354.61 L427.79,354.64 L428.46,354.66 L429.14,354.68 L429.82,354.71 L430.50,354.74 L431.18,354.76 L431.86,354.79 L432.54,354.81 L433.21,354.84 L433.89,354.86 L434.57,354.88 L435.25,354.91 L435.93,354.93 L436.61,354.94 L437.29,354.96 L437.96,354.97 L438.64,354.99 L439.32,354.99 L440.00,355.00 L440.70,355.00 L441.39,355.01 L442.09,355.01 L442.78,355.02 L443.48,355.02 L444.17,355.02 L444.87,355.03 L445.56,355.03 L446.26,355.03 L446.95,355.04 L447.65,355.04 L448.34,355.05 L449.04,355.05 L449.73,355.05 L450.43,355.06 L451.12,355.06 L451.82,355.06 L452.51,355.06 L453.21,355.07 L453.90,355.07 L454.60,355.07 L455.29,355.08 L455.99,355.08 L456.68,355.08 L457.38,355.09 L458.07,355.09 L458.77,355.09 L459.46,355.09 L460.16,355.10 L460.85,355.10 L461.55,355.10 L462.24,355.10 L462.94,355.11 L463.63,355.11 L464.33,355.11 L465.02,355.11 L465.72,355.11 L466.41,355.12 L467.11,355.12 L467.80,355.12 L468.50,355.12 L469.19,355.12 L469.89,355.13 L470.58,355.13 L471.28,355.13 L471.97,355.13 L472.67,355.13 L473.36,355.13 L474.06,355.14 L474.75,355.14 L475.45,355.14 L476.14,355.14 L476.84,355.14 L477.53,355.14 L478.23,355.14 L478.92,355.15 L479.62,355.15 L480.31,355.15 L481.01,355.15 L481.70,355.15 L482.40,355.15 L483.09,355.15 L483.79,355.15 L484.48,355.15 L485.18,355.15 L485.87,355.15 L486.57,355.16 L487.26,355.16 L487.96,355.16 L488.65,355.16 L489.35,355.16 L490.04,355.16 L490.74,355.16 L491.43,355.16 L492.13,355.16 L492.82,355.16 L493.52,355.16 L494.21,355.16 L494.91,355.16 L495.60,355.16 L496.30,355.16"/>
</g>

<text x="149.5" y="11" text-anchor="middle" font-size="15.8">positive ion</text>
<text x="393" y="11" text-anchor="middle" font-size="15.8">negative ion</text>
<text x="190" y="39.6" font-size="15.5">s-O</text>
<text x="449.6" y="44.2" font-size="15.5">s-O</text>
<text x="202.8" y="247.8" font-size="15.5">s-H</text>
<text x="444.8" y="212.8" font-size="15.5">s-H</text>
<text transform="translate(18.3,108.9) rotate(-90)" text-anchor="middle" font-size="19.5">g(r)</text>
<text transform="translate(14.1,278.3) rotate(-90)" text-anchor="middle" font-size="19.5">g(r)</text>
<text x="150.5" y="403.6" text-anchor="middle" font-size="20">r, Å</text>
<text x="394.5" y="403.6" text-anchor="middle" font-size="20">r, Å</text>
<line x1="114.4" y1="78.8" x2="136.8" y2="78.8" stroke="#000" stroke-width="2.2"/>
<line x1="114.1" y1="106.3" x2="136.8" y2="106.3" stroke="#000" stroke-width="2.1" stroke-dasharray="7.4 5.7"/>
<text x="148.1" y="82.9" font-size="16">σ</text><text x="157.7" y="89.4" font-size="11.2">sO</text><text x="173.7" y="82.9" font-size="16">=</text><text x="186.4" y="82.9" font-size="16">0.9</text><text x="210.6" y="82.9" font-size="16">Å</text>
<text x="148.1" y="109.6" font-size="16">σ</text><text x="157.7" y="116.1" font-size="11.2">sO</text><text x="173.7" y="109.6" font-size="16">=</text><text x="186.4" y="109.6" font-size="16">1.9</text><text x="210.6" y="109.6" font-size="16">Å</text>
<line x1="338" y1="237.8" x2="368.1" y2="237.8" stroke="#888" stroke-width="1.4"/>
<line x1="339.1" y1="275.3" x2="369.9" y2="275.3" stroke="#000" stroke-width="2.3"/>
<text x="377" y="242.6" font-size="15.8">with dispersion</text>
<text x="373" y="278.6" font-size="15.9">without dispersion</text>
</svg>
</body></html>
